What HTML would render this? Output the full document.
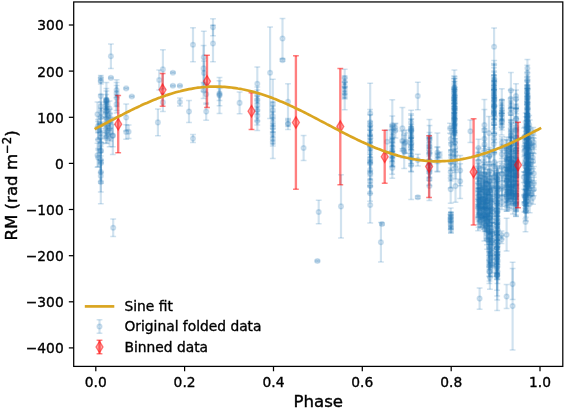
<!DOCTYPE html>
<html><head><meta charset="utf-8"><title>RM vs Phase</title>
<style>html,body{margin:0;padding:0;background:#fff}svg{display:block;filter:blur(0.35px)}</style></head>
<body>
<svg width="565" height="410" viewBox="0 0 565 410">
<rect width="565" height="410" fill="#fff"/>
<g fill="none" stroke="#1f77b4" stroke-opacity="0.21" stroke-width="2.15">
<path d="M113.2 218.9V236.5"/>
<path d="M110.9 44.0V68.6"/>
<path d="M162.9 49.8V89.0"/>
<path d="M159.2 70.0V90.0"/>
<path d="M172.9 72.1V73.3"/>
<path d="M172.9 85.2V86.4"/>
<path d="M179.9 85.2V86.4"/>
<path d="M193.0 27.7V61.7"/>
<path d="M203.8 31.3V83.3"/>
<path d="M203.6 45.4V91.4"/>
<path d="M204.0 61.0V85.0"/>
<path d="M203.6 82.5V98.5"/>
<path d="M213.0 18.8V35.8"/>
<path d="M213.0 25.2V61.8"/>
<path d="M219.5 80.8V105.8"/>
<path d="M219.5 77.5V113.5"/>
<path d="M219.5 88.5V100.5"/>
<path d="M157.9 109.0V135.8"/>
<path d="M162.9 93.4V111.4"/>
<path d="M179.9 98.0V106.0"/>
<path d="M189.0 100.6V122.6"/>
<path d="M193.0 134.6V142.6"/>
<path d="M206.2 103.0V120.2"/>
<path d="M206.2 84.2V104.2"/>
<path d="M239.6 92.1V113.7"/>
<path d="M257.3 66.9V100.7"/>
<path d="M257.3 87.0V103.0"/>
<path d="M257.3 90.0V110.0"/>
<path d="M257.3 96.0V114.0"/>
<path d="M257.3 99.0V121.0"/>
<path d="M257.3 107.0V125.0"/>
<path d="M257.3 111.6V130.4"/>
<path d="M270.1 27.1V118.5"/>
<path d="M282.5 18.5V58.5"/>
<path d="M282.5 59.3V61.3"/>
<path d="M272.8 79.2V128.8"/>
<path d="M272.8 102.0V118.0"/>
<path d="M272.8 106.0V126.0"/>
<path d="M272.8 112.0V132.0"/>
<path d="M272.8 119.0V137.0"/>
<path d="M272.8 124.0V144.0"/>
<path d="M272.8 132.0V146.0"/>
<path d="M272.8 125.6V158.4"/>
<path d="M288.0 83.8V119.6"/>
<path d="M288.0 118.4V129.6"/>
<path d="M288.0 120.5V126.5"/>
<path d="M303.6 135.5V160.5"/>
<path d="M344.7 69.3V86.7"/>
<path d="M344.7 76.0V88.0"/>
<path d="M344.7 78.0V94.0"/>
<path d="M344.7 82.0V98.0"/>
<path d="M344.7 87.0V99.0"/>
<path d="M344.7 82.3V109.7"/>
<path d="M370.2 83.2V143.2"/>
<path d="M370.1 109.4V135.1"/>
<path d="M370.2 114.8V135.4"/>
<path d="M370.2 121.6V136.3"/>
<path d="M370.1 126.4V142.1"/>
<path d="M370.3 130.0V146.2"/>
<path d="M370.2 125.6V156.7"/>
<path d="M370.2 130.6V162.2"/>
<path d="M370.3 138.6V157.8"/>
<path d="M370.1 142.6V162.2"/>
<path d="M370.1 146.6V171.1"/>
<path d="M370.2 150.1V174.0"/>
<path d="M370.1 154.8V172.5"/>
<path d="M370.2 160.1V179.7"/>
<path d="M370.2 163.7V183.1"/>
<path d="M370.2 176.1V186.0"/>
<path d="M370.2 178.5V193.5"/>
<path d="M370.1 185.4V201.2"/>
<path d="M370.2 187.0V223.0"/>
<path d="M392.3 99.8V150.8"/>
<path d="M392.3 116.1V138.7"/>
<path d="M392.3 124.8V137.4"/>
<path d="M392.4 126.4V146.5"/>
<path d="M392.3 129.9V151.6"/>
<path d="M392.3 134.1V152.5"/>
<path d="M392.4 138.4V157.0"/>
<path d="M392.2 139.7V161.5"/>
<path d="M392.4 142.4V165.9"/>
<path d="M392.3 145.7V167.1"/>
<path d="M392.3 151.8V166.2"/>
<path d="M392.2 151.5V174.2"/>
<path d="M392.3 157.7V178.3"/>
<path d="M387.1 130.0V153.6"/>
<path d="M395.2 124.0V131.0"/>
<path d="M395.4 123.2V138.0"/>
<path d="M402.4 107.6V148.8"/>
<path d="M403.2 142.0V158.0"/>
<path d="M404.2 134.9V168.5"/>
<path d="M406.0 130.0V153.6"/>
<path d="M402.3 131.0V151.0"/>
<path d="M405.0 133.0V153.0"/>
<path d="M411.2 110.3V149.7"/>
<path d="M411.2 115.3V140.7"/>
<path d="M411.1 113.7V131.2"/>
<path d="M411.1 119.3V137.6"/>
<path d="M411.3 119.1V142.5"/>
<path d="M411.1 126.4V144.3"/>
<path d="M411.3 124.4V149.8"/>
<path d="M411.1 132.2V147.4"/>
<path d="M411.2 133.4V153.7"/>
<path d="M411.1 138.2V156.0"/>
<path d="M411.2 138.2V163.6"/>
<path d="M411.2 145.2V165.8"/>
<path d="M411.1 146.6V171.2"/>
<path d="M411.2 130.6V199.4"/>
<path d="M411.2 144.0V172.0"/>
<path d="M417.8 82.2V109.8"/>
<path d="M417.8 154.2V166.0"/>
<path d="M417.8 196.0V198.4"/>
<path d="M341.0 174.8V238.0"/>
<path d="M318.7 200.2V223.8"/>
<path d="M317.4 260.2V261.8"/>
<path d="M382.0 223.0V225.0"/>
<path d="M380.9 222.6V262.0"/>
<path d="M429.4 119.4V160.6"/>
<path d="M429.5 125.4V148.6"/>
<path d="M429.4 132.6V146.1"/>
<path d="M429.3 137.6V150.6"/>
<path d="M429.3 137.9V154.7"/>
<path d="M429.3 142.5V156.6"/>
<path d="M429.4 147.4V159.7"/>
<path d="M429.4 153.3V167.4"/>
<path d="M429.4 153.3V170.3"/>
<path d="M429.5 152.2V178.1"/>
<path d="M429.4 163.7V176.9"/>
<path d="M429.4 164.9V180.6"/>
<path d="M429.3 173.2V185.5"/>
<path d="M429.4 171.6V200.4"/>
<path d="M437.4 133.1V172.1"/>
<path d="M437.4 147.4V163.4"/>
<path d="M439.7 151.9V157.9"/>
<path d="M437.4 146.8V171.2"/>
<path d="M454.4 70.0V98.0"/>
<path d="M454.4 78.2V96.5"/>
<path d="M454.2 76.0V100.4"/>
<path d="M454.6 76.6V103.8"/>
<path d="M454.3 81.3V99.9"/>
<path d="M454.4 78.5V107.0"/>
<path d="M454.3 79.0V108.0"/>
<path d="M454.6 81.4V110.3"/>
<path d="M454.5 87.2V106.9"/>
<path d="M454.3 89.8V106.3"/>
<path d="M454.3 88.7V108.8"/>
<path d="M454.6 89.5V112.7"/>
<path d="M454.6 87.2V118.5"/>
<path d="M454.3 93.6V113.3"/>
<path d="M454.3 91.6V117.6"/>
<path d="M454.6 95.2V118.9"/>
<path d="M454.5 99.4V116.8"/>
<path d="M454.6 95.3V123.8"/>
<path d="M454.4 101.6V120.5"/>
<path d="M454.3 98.1V126.9"/>
<path d="M454.3 103.0V125.4"/>
<path d="M454.5 106.2V124.9"/>
<path d="M454.2 100.6V131.1"/>
<path d="M454.2 103.6V132.8"/>
<path d="M454.5 109.1V130.7"/>
<path d="M454.2 112.5V128.8"/>
<path d="M454.5 110.5V134.9"/>
<path d="M454.4 109.0V139.0"/>
<path d="M454.3 115.3V135.3"/>
<path d="M454.3 113.3V138.6"/>
<path d="M454.4 118.3V136.4"/>
<path d="M454.3 118.0V141.3"/>
<path d="M454.6 119.2V142.0"/>
<path d="M454.4 120.2V144.7"/>
<path d="M454.2 121.8V144.8"/>
<path d="M450.9 128.2V149.8"/>
<path d="M451.1 134.0V154.7"/>
<path d="M451.0 142.7V160.9"/>
<path d="M451.2 150.6V163.8"/>
<path d="M451.0 155.0V170.3"/>
<path d="M454.9 132.8V151.5"/>
<path d="M455.1 138.8V156.2"/>
<path d="M454.9 143.0V161.2"/>
<path d="M454.9 148.7V167.1"/>
<path d="M455.1 152.0V172.4"/>
<path d="M450.7 175.3V203.3"/>
<path d="M450.7 168.0V188.0"/>
<path d="M450.7 163.0V181.0"/>
<path d="M455.5 155.0V179.0"/>
<path d="M455.5 169.9V202.3"/>
<path d="M460.2 155.5V185.7"/>
<path d="M460.2 163.8V198.6"/>
<path d="M450.7 208.0V220.0"/>
<path d="M450.9 212.3V217.9"/>
<path d="M450.9 212.2V221.2"/>
<path d="M450.5 214.7V221.4"/>
<path d="M450.6 218.1V222.5"/>
<path d="M450.8 219.4V228.8"/>
<path d="M450.8 221.3V229.2"/>
<path d="M450.9 222.7V232.5"/>
<path d="M450.9 227.0V233.3"/>
<path d="M450.0 123.2V133.2"/>
<path d="M470.4 120.0V142.6"/>
<path d="M100.8 75.6V80.6"/>
<path d="M100.8 77.7V84.1"/>
<path d="M100.8 82.1V110.1"/>
<path d="M100.8 94.4V118.4"/>
<path d="M101.0 102.1V124.0"/>
<path d="M100.8 108.2V126.4"/>
<path d="M100.6 116.7V132.5"/>
<path d="M100.6 123.9V142.6"/>
<path d="M100.6 122.0V152.6"/>
<path d="M100.8 130.7V156.0"/>
<path d="M100.9 128.7V172.1"/>
<path d="M100.7 138.6V163.4"/>
<path d="M100.7 146.4V173.0"/>
<path d="M101.0 142.8V183.2"/>
<path d="M100.8 162.6V181.4"/>
<path d="M100.8 160.0V192.0"/>
<path d="M100.8 160.2V203.8"/>
<path d="M97.5 101.9V126.8"/>
<path d="M98.0 119.5V132.8"/>
<path d="M98.0 121.5V139.5"/>
<path d="M98.2 129.2V150.1"/>
<path d="M97.5 143.2V167.2"/>
<path d="M98.1 148.4V166.8"/>
<path d="M106.4 82.4V117.6"/>
<path d="M106.4 88.4V113.6"/>
<path d="M106.4 91.0V108.4"/>
<path d="M106.3 94.6V108.9"/>
<path d="M106.2 98.2V109.5"/>
<path d="M106.3 99.4V111.9"/>
<path d="M106.5 102.2V114.5"/>
<path d="M106.3 104.5V117.3"/>
<path d="M106.3 107.0V117.1"/>
<path d="M106.4 112.3V123.8"/>
<path d="M106.7 115.2V126.1"/>
<path d="M106.4 118.4V132.3"/>
<path d="M106.3 121.9V135.9"/>
<path d="M106.7 125.5V138.3"/>
<path d="M106.5 128.4V143.5"/>
<path d="M106.3 132.7V143.1"/>
<path d="M109.5 100.9V116.3"/>
<path d="M109.6 109.3V118.2"/>
<path d="M110.0 113.6V128.3"/>
<path d="M109.6 117.5V128.5"/>
<path d="M109.6 122.2V134.6"/>
<path d="M110.1 123.2V140.9"/>
<path d="M109.6 129.1V146.8"/>
<path d="M116.6 79.8V106.4"/>
<path d="M116.6 82.4V97.6"/>
<path d="M116.6 85.4V110.6"/>
<path d="M116.6 95.0V113.0"/>
<path d="M112.8 124.5V146.7"/>
<path d="M112.8 117.2V154.4"/>
<path d="M110.9 77.3V78.5"/>
<path d="M126.2 87.8V89.0"/>
<path d="M131.8 95.9V97.1"/>
<path d="M126.2 104.1V130.9"/>
<path d="M126.2 124.8V139.2"/>
<path d="M128.6 124.9V138.5"/>
<path d="M478.5 139.3V156.7"/>
<path d="M478.3 148.1V160.1"/>
<path d="M478.4 152.2V170.2"/>
<path d="M478.4 160.6V172.7"/>
<path d="M478.2 163.6V182.0"/>
<path d="M478.1 166.7V183.6"/>
<path d="M478.5 168.5V188.9"/>
<path d="M478.5 171.5V195.0"/>
<path d="M478.3 178.0V195.2"/>
<path d="M478.2 178.2V201.7"/>
<path d="M478.1 179.2V204.6"/>
<path d="M478.5 183.8V207.5"/>
<path d="M478.2 188.2V208.6"/>
<path d="M478.6 188.1V213.0"/>
<path d="M478.5 191.3V217.6"/>
<path d="M478.5 199.2V214.9"/>
<path d="M478.2 199.2V217.0"/>
<path d="M478.6 200.8V221.8"/>
<path d="M478.5 204.4V227.3"/>
<path d="M478.1 206.1V230.8"/>
<path d="M484.4 99.4V150.6"/>
<path d="M484.4 109.6V150.4"/>
<path d="M484.5 128.7V148.7"/>
<path d="M484.5 132.3V156.3"/>
<path d="M484.4 146.3V164.7"/>
<path d="M484.1 151.7V172.6"/>
<path d="M484.1 158.9V174.1"/>
<path d="M484.2 162.3V186.1"/>
<path d="M484.4 169.0V187.1"/>
<path d="M484.5 167.4V191.7"/>
<path d="M484.5 176.4V189.7"/>
<path d="M484.3 172.7V196.6"/>
<path d="M484.4 182.1V194.3"/>
<path d="M484.3 179.2V201.9"/>
<path d="M484.5 187.2V203.9"/>
<path d="M484.4 188.3V207.8"/>
<path d="M484.6 192.3V207.5"/>
<path d="M484.7 199.4V211.7"/>
<path d="M484.6 193.3V220.8"/>
<path d="M484.3 202.4V217.8"/>
<path d="M484.2 204.0V225.3"/>
<path d="M484.4 201.6V228.9"/>
<path d="M484.6 208.2V228.4"/>
<path d="M484.5 215.8V231.5"/>
<path d="M484.4 217.0V241.0"/>
<path d="M489.0 116.4V149.8"/>
<path d="M489.5 149.5V161.8"/>
<path d="M489.5 147.6V165.0"/>
<path d="M489.2 156.3V172.5"/>
<path d="M489.8 164.7V176.7"/>
<path d="M489.8 170.6V184.0"/>
<path d="M489.7 169.4V192.2"/>
<path d="M489.4 173.6V190.3"/>
<path d="M489.6 178.9V195.3"/>
<path d="M489.3 182.1V194.7"/>
<path d="M489.8 182.7V198.2"/>
<path d="M489.2 188.4V203.6"/>
<path d="M489.2 189.5V206.0"/>
<path d="M489.9 191.3V213.0"/>
<path d="M489.9 192.5V215.8"/>
<path d="M489.7 200.7V213.3"/>
<path d="M489.5 200.0V221.1"/>
<path d="M489.3 207.0V219.6"/>
<path d="M489.1 208.4V226.0"/>
<path d="M489.3 208.0V228.9"/>
<path d="M489.3 213.5V233.3"/>
<path d="M489.6 216.0V232.7"/>
<path d="M489.2 219.8V234.3"/>
<path d="M489.5 225.0V239.6"/>
<path d="M490.0 226.6V244.0"/>
<path d="M489.2 229.5V242.6"/>
<path d="M489.1 232.2V247.1"/>
<path d="M489.6 231.1V253.8"/>
<path d="M489.4 238.5V255.4"/>
<path d="M489.4 241.3V257.3"/>
<path d="M489.3 239.1V262.7"/>
<path d="M489.5 244.4V263.9"/>
<path d="M489.2 251.8V267.0"/>
<path d="M489.4 251.9V269.3"/>
<path d="M489.8 254.5V277.0"/>
<path d="M489.0 255.7V276.2"/>
<path d="M489.5 262.1V281.1"/>
<path d="M489.4 260.4V283.5"/>
<path d="M489.9 265.6V289.3"/>
<path d="M494.1 27.9V65.5"/>
<path d="M493.9 63.4V89.6"/>
<path d="M494.2 60.6V97.8"/>
<path d="M494.2 64.4V99.1"/>
<path d="M494.1 71.0V95.6"/>
<path d="M494.0 67.7V104.5"/>
<path d="M494.0 75.0V100.8"/>
<path d="M494.2 72.3V106.1"/>
<path d="M493.9 75.3V106.7"/>
<path d="M494.1 80.6V107.7"/>
<path d="M493.9 81.0V111.0"/>
<path d="M494.3 79.0V115.9"/>
<path d="M494.1 85.5V114.2"/>
<path d="M494.3 81.4V119.5"/>
<path d="M493.9 85.2V119.2"/>
<path d="M494.1 89.9V119.0"/>
<path d="M494.3 91.8V120.4"/>
<path d="M494.0 90.5V122.9"/>
<path d="M493.9 89.5V129.4"/>
<path d="M494.1 97.2V125.3"/>
<path d="M494.0 93.1V133.5"/>
<path d="M494.0 94.1V133.3"/>
<path d="M494.4 106.1V128.0"/>
<path d="M493.9 112.8V133.8"/>
<path d="M494.4 124.8V142.5"/>
<path d="M493.9 124.9V152.6"/>
<path d="M493.8 135.6V152.4"/>
<path d="M494.3 139.5V166.1"/>
<path d="M494.4 148.5V175.7"/>
<path d="M493.9 152.7V179.9"/>
<path d="M493.8 164.2V188.2"/>
<path d="M494.0 170.7V190.6"/>
<path d="M496.8 162.1V182.6"/>
<path d="M497.6 165.7V183.7"/>
<path d="M497.0 167.1V188.8"/>
<path d="M497.5 168.2V191.1"/>
<path d="M497.2 169.1V191.1"/>
<path d="M497.0 172.9V194.8"/>
<path d="M496.8 174.5V197.1"/>
<path d="M497.4 179.3V195.9"/>
<path d="M496.9 172.7V203.4"/>
<path d="M497.4 175.3V205.7"/>
<path d="M497.0 177.0V208.3"/>
<path d="M497.0 181.5V209.0"/>
<path d="M497.0 188.6V204.7"/>
<path d="M497.5 186.4V212.6"/>
<path d="M496.8 192.0V211.8"/>
<path d="M497.6 187.3V218.6"/>
<path d="M497.0 193.3V216.2"/>
<path d="M497.5 197.5V216.5"/>
<path d="M497.4 195.0V224.2"/>
<path d="M497.3 200.9V222.2"/>
<path d="M497.1 198.4V226.9"/>
<path d="M497.0 200.1V228.2"/>
<path d="M496.9 208.2V224.8"/>
<path d="M497.1 203.3V234.9"/>
<path d="M497.6 211.6V231.9"/>
<path d="M496.9 210.2V234.2"/>
<path d="M497.2 215.5V235.3"/>
<path d="M497.3 213.4V240.2"/>
<path d="M497.5 216.2V242.8"/>
<path d="M497.5 219.9V240.6"/>
<path d="M497.1 219.2V247.0"/>
<path d="M497.0 224.4V244.4"/>
<path d="M497.5 223.7V248.9"/>
<path d="M497.1 222.7V254.6"/>
<path d="M497.0 226.5V255.5"/>
<path d="M497.6 234.5V252.1"/>
<path d="M497.5 230.2V259.7"/>
<path d="M496.8 237.5V258.2"/>
<path d="M497.0 232.5V264.0"/>
<path d="M497.5 240.2V262.1"/>
<path d="M497.2 243.7V263.8"/>
<path d="M497.6 246.7V264.4"/>
<path d="M497.3 247.5V266.9"/>
<path d="M496.9 249.1V268.4"/>
<path d="M497.3 247.3V273.7"/>
<path d="M496.8 251.8V273.0"/>
<path d="M496.9 254.9V275.9"/>
<path d="M497.4 254.0V278.8"/>
<path d="M496.9 257.0V279.3"/>
<path d="M497.3 262.4V279.8"/>
<path d="M497.4 261.0V283.6"/>
<path d="M497.0 258.9V290.2"/>
<path d="M497.2 255.0V296.0"/>
<path d="M497.2 252.0V300.0"/>
<path d="M497.2 239.4V310.6"/>
<path d="M501.8 88.8V113.2"/>
<path d="M501.8 100.0V113.6"/>
<path d="M501.9 99.7V119.7"/>
<path d="M501.7 103.6V120.8"/>
<path d="M501.6 104.9V123.9"/>
<path d="M501.9 110.6V124.6"/>
<path d="M501.8 115.6V127.3"/>
<path d="M501.8 113.6V130.0"/>
<path d="M501.6 118.7V134.9"/>
<path d="M501.8 136.8V148.3"/>
<path d="M501.8 139.1V158.4"/>
<path d="M501.8 145.3V163.4"/>
<path d="M501.6 161.3V172.6"/>
<path d="M502.1 166.2V181.0"/>
<path d="M502.1 167.4V181.3"/>
<path d="M501.9 177.8V196.1"/>
<path d="M502.0 182.6V194.8"/>
<path d="M502.0 188.0V206.3"/>
<path d="M501.6 195.4V209.4"/>
<path d="M506.5 139.7V153.2"/>
<path d="M506.7 137.1V159.8"/>
<path d="M506.6 140.1V161.2"/>
<path d="M506.8 146.7V160.1"/>
<path d="M506.6 148.0V167.5"/>
<path d="M506.6 150.2V169.2"/>
<path d="M506.7 154.1V171.5"/>
<path d="M506.3 155.9V175.3"/>
<path d="M506.4 158.0V179.1"/>
<path d="M506.6 165.0V179.2"/>
<path d="M506.4 167.3V180.8"/>
<path d="M506.4 168.0V185.3"/>
<path d="M506.3 169.9V189.5"/>
<path d="M506.7 170.6V191.9"/>
<path d="M506.3 176.2V194.3"/>
<path d="M506.9 180.8V194.5"/>
<path d="M506.9 181.3V202.1"/>
<path d="M506.4 182.5V206.3"/>
<path d="M506.9 184.8V207.8"/>
<path d="M506.8 186.6V209.7"/>
<path d="M506.5 190.1V211.2"/>
<path d="M506.8 196.0V211.3"/>
<path d="M510.9 72.6V108.4"/>
<path d="M510.7 89.9V107.9"/>
<path d="M510.8 97.9V113.1"/>
<path d="M510.8 102.8V115.3"/>
<path d="M510.7 101.5V124.7"/>
<path d="M511.1 115.1V129.1"/>
<path d="M510.7 119.5V137.9"/>
<path d="M510.8 120.4V142.9"/>
<path d="M510.9 122.8V145.4"/>
<path d="M511.2 125.7V145.3"/>
<path d="M511.1 131.3V146.5"/>
<path d="M510.9 134.9V151.2"/>
<path d="M510.9 138.0V152.1"/>
<path d="M510.6 136.7V158.6"/>
<path d="M511.0 137.1V160.9"/>
<path d="M511.0 144.6V160.3"/>
<path d="M510.6 146.6V160.4"/>
<path d="M510.9 148.7V166.8"/>
<path d="M510.7 153.7V168.5"/>
<path d="M510.6 157.1V169.1"/>
<path d="M510.7 156.8V173.1"/>
<path d="M511.0 157.7V176.7"/>
<path d="M511.0 160.9V178.6"/>
<path d="M511.2 164.7V179.7"/>
<path d="M510.7 165.0V184.7"/>
<path d="M511.1 170.9V187.8"/>
<path d="M510.6 170.5V190.3"/>
<path d="M510.8 173.9V193.7"/>
<path d="M511.2 175.7V196.5"/>
<path d="M511.1 181.9V194.5"/>
<path d="M510.8 184.1V199.0"/>
<path d="M511.1 186.8V199.0"/>
<path d="M511.2 190.0V203.7"/>
<path d="M516.0 83.7V108.3"/>
<path d="M516.1 90.0V108.1"/>
<path d="M516.2 99.7V113.8"/>
<path d="M515.9 104.0V116.6"/>
<path d="M516.1 108.5V129.0"/>
<path d="M516.2 108.9V129.8"/>
<path d="M516.1 118.4V135.9"/>
<path d="M515.8 123.3V138.0"/>
<path d="M515.9 122.5V143.5"/>
<path d="M516.2 127.4V148.0"/>
<path d="M516.0 130.7V147.9"/>
<path d="M516.0 136.1V151.3"/>
<path d="M516.3 138.8V153.4"/>
<path d="M515.7 142.1V157.2"/>
<path d="M516.1 139.0V162.3"/>
<path d="M515.9 143.7V166.3"/>
<path d="M515.8 145.2V168.1"/>
<path d="M516.1 150.4V170.4"/>
<path d="M516.0 153.2V175.3"/>
<path d="M516.2 157.7V174.9"/>
<path d="M516.0 161.4V177.1"/>
<path d="M516.1 164.1V177.1"/>
<path d="M515.8 169.3V181.6"/>
<path d="M516.3 167.9V184.1"/>
<path d="M515.7 172.7V185.2"/>
<path d="M516.1 173.2V193.6"/>
<path d="M515.7 176.8V195.9"/>
<path d="M516.2 177.3V199.1"/>
<path d="M515.7 181.3V203.8"/>
<path d="M516.3 188.8V202.1"/>
<path d="M515.8 190.1V202.5"/>
<path d="M516.2 191.2V210.8"/>
<path d="M516.1 196.1V211.5"/>
<path d="M515.8 194.0V215.1"/>
<path d="M515.9 199.2V216.3"/>
<path d="M527.4 59.4V77.0"/>
<path d="M527.3 65.2V80.9"/>
<path d="M527.4 72.5V88.4"/>
<path d="M527.4 76.3V95.4"/>
<path d="M527.2 77.6V96.5"/>
<path d="M527.5 79.4V97.5"/>
<path d="M527.4 82.3V98.9"/>
<path d="M527.2 80.6V104.5"/>
<path d="M527.2 84.9V101.3"/>
<path d="M527.6 88.8V102.8"/>
<path d="M527.4 85.3V108.8"/>
<path d="M527.4 89.1V107.3"/>
<path d="M527.3 88.4V113.7"/>
<path d="M527.3 90.6V113.0"/>
<path d="M527.2 93.0V114.7"/>
<path d="M527.5 93.7V116.0"/>
<path d="M527.5 98.6V116.9"/>
<path d="M527.4 96.4V121.1"/>
<path d="M527.6 102.8V117.1"/>
<path d="M527.3 99.4V124.3"/>
<path d="M527.4 101.7V126.4"/>
<path d="M527.4 105.1V125.5"/>
<path d="M527.5 107.0V128.8"/>
<path d="M527.3 111.0V126.8"/>
<path d="M527.5 108.9V133.8"/>
<path d="M527.4 109.3V134.5"/>
<path d="M527.1 113.4V134.9"/>
<path d="M527.2 117.1V135.4"/>
<path d="M527.6 113.9V140.0"/>
<path d="M527.1 118.9V137.8"/>
<path d="M527.4 121.3V139.2"/>
<path d="M527.2 118.0V145.7"/>
<path d="M527.1 120.4V147.9"/>
<path d="M527.3 120.8V148.6"/>
<path d="M527.6 126.9V148.1"/>
<path d="M527.5 129.5V146.8"/>
<path d="M527.3 131.6V148.0"/>
<path d="M527.6 129.5V153.9"/>
<path d="M527.5 132.7V154.3"/>
<path d="M527.5 134.1V154.9"/>
<path d="M527.7 136.5V157.7"/>
<path d="M527.6 137.9V159.0"/>
<path d="M527.6 136.2V162.8"/>
<path d="M527.6 138.9V165.1"/>
<path d="M527.5 142.8V164.2"/>
<path d="M527.5 145.9V163.1"/>
<path d="M527.6 144.0V168.6"/>
<path d="M527.2 147.7V168.8"/>
<path d="M527.5 149.1V170.1"/>
<path d="M527.7 152.5V170.7"/>
<path d="M527.6 152.8V173.5"/>
<path d="M527.8 156.3V172.7"/>
<path d="M527.1 153.5V178.9"/>
<path d="M527.4 159.9V177.1"/>
<path d="M527.4 157.2V181.8"/>
<path d="M527.5 158.0V184.0"/>
<path d="M527.3 159.0V186.3"/>
<path d="M527.5 163.4V184.1"/>
<path d="M527.1 162.4V190.2"/>
<path d="M527.0 167.6V186.9"/>
<path d="M527.0 168.4V189.4"/>
<path d="M527.6 170.5V190.7"/>
<path d="M527.2 169.5V194.4"/>
<path d="M527.4 175.4V194.0"/>
<path d="M527.3 176.8V195.3"/>
<path d="M527.6 173.7V199.4"/>
<path d="M526.0 179.7V199.3"/>
<path d="M526.4 182.2V199.7"/>
<path d="M526.3 183.3V205.4"/>
<path d="M525.8 186.6V206.1"/>
<path d="M526.3 189.1V206.7"/>
<path d="M525.8 193.2V210.9"/>
<path d="M525.9 195.1V210.9"/>
<path d="M526.2 196.4V213.2"/>
<path d="M525.8 198.4V217.2"/>
<path d="M526.1 200.3V220.9"/>
<path d="M525.7 112.9V131.4"/>
<path d="M525.7 116.7V135.7"/>
<path d="M525.1 127.2V145.5"/>
<path d="M525.0 136.3V146.4"/>
<path d="M525.5 142.8V155.3"/>
<path d="M525.1 143.8V156.1"/>
<path d="M525.3 154.0V165.6"/>
<path d="M525.6 160.6V172.3"/>
<path d="M525.5 163.3V181.1"/>
<path d="M525.7 167.9V185.7"/>
<path d="M525.2 175.2V192.1"/>
<path d="M525.6 180.6V194.9"/>
<path d="M525.4 189.4V202.0"/>
<path d="M525.1 190.3V205.2"/>
<path d="M525.4 196.9V208.3"/>
<path d="M525.4 203.3V218.7"/>
<path d="M529.2 115.6V134.0"/>
<path d="M529.7 119.9V136.5"/>
<path d="M529.5 128.8V143.0"/>
<path d="M529.3 134.0V150.4"/>
<path d="M529.2 137.9V154.0"/>
<path d="M529.9 145.2V158.5"/>
<path d="M529.6 151.7V166.5"/>
<path d="M529.2 155.6V172.8"/>
<path d="M529.5 159.0V177.6"/>
<path d="M529.6 164.8V180.1"/>
<path d="M529.4 173.1V187.5"/>
<path d="M529.6 174.8V193.1"/>
<path d="M529.9 181.8V195.9"/>
<path d="M529.4 188.1V203.2"/>
<path d="M529.7 194.9V212.8"/>
<path d="M525.5 212.2V231.8"/>
<path d="M533.2 127.4V137.8"/>
<path d="M533.7 135.2V149.5"/>
<path d="M533.9 138.3V153.4"/>
<path d="M532.8 152.4V162.8"/>
<path d="M533.0 153.5V168.8"/>
<path d="M533.8 166.5V180.8"/>
<path d="M533.7 177.3V190.2"/>
<path d="M533.8 182.9V195.7"/>
<path d="M533.0 190.9V204.2"/>
<path d="M479.6 287.9V309.3"/>
<path d="M506.6 218.3V251.1"/>
<path d="M506.6 284.6V308.4"/>
<path d="M512.6 268.6V299.6"/>
<path d="M512.6 262.2V350.0"/>
<path d="M501.5 231.0V239.0"/>
<path d="M501.5 235.5V243.5"/>
<path d="M481.5 167.2V180.4"/>
<path d="M480.9 166.1V187.4"/>
<path d="M481.4 175.4V191.9"/>
<path d="M481.5 177.9V196.7"/>
<path d="M481.1 180.5V197.6"/>
<path d="M481.2 183.4V203.1"/>
<path d="M480.9 190.3V209.1"/>
<path d="M481.0 189.3V211.0"/>
<path d="M481.6 197.6V215.0"/>
<path d="M481.2 198.5V217.6"/>
<path d="M481.7 206.9V224.6"/>
<path d="M481.0 207.8V227.5"/>
<path d="M481.0 214.8V226.9"/>
<path d="M487.1 169.3V182.7"/>
<path d="M486.7 172.2V194.6"/>
<path d="M486.6 173.7V194.3"/>
<path d="M487.2 181.1V195.3"/>
<path d="M487.2 181.0V201.5"/>
<path d="M487.2 191.5V204.5"/>
<path d="M487.2 192.2V209.7"/>
<path d="M486.8 194.1V217.6"/>
<path d="M486.6 202.7V214.9"/>
<path d="M487.3 205.9V218.8"/>
<path d="M487.2 207.8V221.8"/>
<path d="M487.0 214.3V227.0"/>
<path d="M487.1 213.9V231.2"/>
<path d="M486.7 216.7V238.3"/>
<path d="M487.1 220.3V239.9"/>
<path d="M486.9 223.3V244.8"/>
<path d="M487.2 230.4V249.2"/>
<path d="M491.6 175.5V199.2"/>
<path d="M492.3 186.0V201.9"/>
<path d="M492.4 187.2V209.1"/>
<path d="M491.8 194.2V211.4"/>
<path d="M491.9 198.7V218.9"/>
<path d="M492.3 201.3V223.0"/>
<path d="M491.6 207.7V222.9"/>
<path d="M492.1 209.7V231.5"/>
<path d="M491.6 216.5V238.5"/>
<path d="M492.3 222.4V241.2"/>
<path d="M492.3 223.1V244.8"/>
<path d="M492.3 232.4V248.6"/>
<path d="M492.0 231.6V253.2"/>
<path d="M492.2 236.0V259.2"/>
<path d="M492.1 242.4V262.5"/>
<path d="M491.8 250.6V265.7"/>
<path d="M492.2 255.4V272.9"/>
<path d="M492.2 255.1V276.4"/>
<path d="M508.8 147.6V170.4"/>
<path d="M508.7 157.2V174.9"/>
<path d="M508.4 161.9V176.2"/>
<path d="M508.9 163.4V179.8"/>
<path d="M508.6 168.4V186.6"/>
<path d="M508.2 168.0V192.0"/>
<path d="M508.3 175.4V195.0"/>
<path d="M508.4 181.7V200.9"/>
<path d="M508.7 187.5V199.8"/>
<path d="M509.2 185.4V207.8"/>
<path d="M508.8 195.2V210.4"/>
<path d="M510.9 143.2V166.5"/>
<path d="M511.1 149.3V172.8"/>
<path d="M510.6 156.9V171.3"/>
<path d="M510.7 163.6V176.2"/>
<path d="M511.1 169.7V187.2"/>
<path d="M511.1 180.8V193.6"/>
<path d="M510.8 184.5V198.0"/>
<path d="M510.8 190.4V209.1"/>
<path d="M514.0 150.3V170.3"/>
<path d="M513.4 156.1V170.0"/>
<path d="M514.0 161.4V176.1"/>
<path d="M513.3 160.9V177.1"/>
<path d="M513.9 164.7V186.7"/>
<path d="M513.8 166.0V186.5"/>
<path d="M514.0 175.7V188.4"/>
<path d="M513.8 172.2V195.5"/>
<path d="M513.3 179.8V198.9"/>
<path d="M513.1 185.3V201.2"/>
<path d="M513.1 186.2V204.0"/>
<path d="M513.2 191.5V205.2"/>
<path d="M513.0 193.5V214.1"/>
<path d="M515.7 139.9V163.1"/>
<path d="M516.3 148.3V170.7"/>
<path d="M515.8 163.7V181.1"/>
<path d="M516.3 162.9V185.1"/>
<path d="M516.0 177.8V193.9"/>
<path d="M516.0 185.4V204.9"/>
<path d="M515.8 191.3V203.9"/>
<path d="M516.0 202.9V216.6"/>
<path d="M527.2 104.9V125.8"/>
<path d="M527.2 104.1V130.1"/>
<path d="M527.1 113.4V135.3"/>
<path d="M527.8 121.7V139.1"/>
<path d="M527.0 127.3V154.0"/>
<path d="M527.1 134.0V155.7"/>
<path d="M527.2 139.5V157.9"/>
<path d="M527.9 141.3V169.3"/>
<path d="M527.0 155.2V174.7"/>
<path d="M527.0 158.5V183.3"/>
<path d="M527.9 165.2V181.4"/>
<path d="M527.2 173.8V191.5"/>
<path d="M527.7 172.7V195.0"/>
<path d="M524.1 127.9V147.0"/>
<path d="M524.3 145.4V156.7"/>
<path d="M524.5 155.1V172.3"/>
<path d="M523.8 171.7V182.5"/>
<path d="M524.2 189.3V202.0"/>
<path d="M524.3 195.0V212.1"/>
<path d="M531.1 137.8V149.8"/>
<path d="M531.2 139.5V153.6"/>
<path d="M530.6 155.4V173.5"/>
<path d="M531.3 161.8V180.5"/>
<path d="M530.5 174.1V193.2"/>
<path d="M531.4 188.0V200.7"/>
<path d="M479.8 187.8V204.2"/>
<path d="M479.4 191.7V210.9"/>
<path d="M479.5 197.2V214.5"/>
<path d="M479.1 203.7V224.3"/>
<path d="M479.9 213.1V228.9"/>
<path d="M482.9 188.6V209.6"/>
<path d="M483.4 189.4V212.9"/>
<path d="M483.0 200.3V218.7"/>
<path d="M482.5 203.7V227.3"/>
<path d="M482.7 212.9V226.1"/>
<path d="M486.3 190.4V202.7"/>
<path d="M486.2 194.6V209.0"/>
<path d="M486.1 198.1V217.0"/>
<path d="M486.2 210.2V223.5"/>
<path d="M486.2 218.9V231.5"/>
</g>
<g fill="none" stroke="#1f77b4" stroke-opacity="0.21" stroke-width="1.5">
<path d="M110.3 218.9h5.8M110.3 236.5h5.8"/>
<path d="M108.0 44.0h5.8M108.0 68.6h5.8"/>
<path d="M160.0 49.8h5.8M160.0 89.0h5.8"/>
<path d="M156.3 70.0h5.8M156.3 90.0h5.8"/>
<path d="M170.0 72.1h5.8M170.0 73.3h5.8"/>
<path d="M170.0 85.2h5.8M170.0 86.4h5.8"/>
<path d="M177.0 85.2h5.8M177.0 86.4h5.8"/>
<path d="M190.1 27.7h5.8M190.1 61.7h5.8"/>
<path d="M200.9 31.3h5.8M200.9 83.3h5.8"/>
<path d="M200.7 45.4h5.8M200.7 91.4h5.8"/>
<path d="M201.1 61.0h5.8M201.1 85.0h5.8"/>
<path d="M200.7 82.5h5.8M200.7 98.5h5.8"/>
<path d="M210.1 18.8h5.8M210.1 35.8h5.8"/>
<path d="M210.1 25.2h5.8M210.1 61.8h5.8"/>
<path d="M216.6 80.8h5.8M216.6 105.8h5.8"/>
<path d="M216.6 77.5h5.8M216.6 113.5h5.8"/>
<path d="M216.6 88.5h5.8M216.6 100.5h5.8"/>
<path d="M155.0 109.0h5.8M155.0 135.8h5.8"/>
<path d="M160.0 93.4h5.8M160.0 111.4h5.8"/>
<path d="M177.0 98.0h5.8M177.0 106.0h5.8"/>
<path d="M186.1 100.6h5.8M186.1 122.6h5.8"/>
<path d="M190.1 134.6h5.8M190.1 142.6h5.8"/>
<path d="M203.3 103.0h5.8M203.3 120.2h5.8"/>
<path d="M203.3 84.2h5.8M203.3 104.2h5.8"/>
<path d="M236.7 92.1h5.8M236.7 113.7h5.8"/>
<path d="M254.4 66.9h5.8M254.4 100.7h5.8"/>
<path d="M254.4 87.0h5.8M254.4 103.0h5.8"/>
<path d="M254.4 90.0h5.8M254.4 110.0h5.8"/>
<path d="M254.4 96.0h5.8M254.4 114.0h5.8"/>
<path d="M254.4 99.0h5.8M254.4 121.0h5.8"/>
<path d="M254.4 107.0h5.8M254.4 125.0h5.8"/>
<path d="M254.4 111.6h5.8M254.4 130.4h5.8"/>
<path d="M267.2 27.1h5.8M267.2 118.5h5.8"/>
<path d="M279.6 18.5h5.8M279.6 58.5h5.8"/>
<path d="M279.6 59.3h5.8M279.6 61.3h5.8"/>
<path d="M269.9 79.2h5.8M269.9 128.8h5.8"/>
<path d="M269.9 102.0h5.8M269.9 118.0h5.8"/>
<path d="M269.9 106.0h5.8M269.9 126.0h5.8"/>
<path d="M269.9 112.0h5.8M269.9 132.0h5.8"/>
<path d="M269.9 119.0h5.8M269.9 137.0h5.8"/>
<path d="M269.9 124.0h5.8M269.9 144.0h5.8"/>
<path d="M269.9 132.0h5.8M269.9 146.0h5.8"/>
<path d="M269.9 125.6h5.8M269.9 158.4h5.8"/>
<path d="M285.1 83.8h5.8M285.1 119.6h5.8"/>
<path d="M285.1 118.4h5.8M285.1 129.6h5.8"/>
<path d="M285.1 120.5h5.8M285.1 126.5h5.8"/>
<path d="M300.7 135.5h5.8M300.7 160.5h5.8"/>
<path d="M341.8 69.3h5.8M341.8 86.7h5.8"/>
<path d="M341.8 76.0h5.8M341.8 88.0h5.8"/>
<path d="M341.8 78.0h5.8M341.8 94.0h5.8"/>
<path d="M341.8 82.0h5.8M341.8 98.0h5.8"/>
<path d="M341.8 87.0h5.8M341.8 99.0h5.8"/>
<path d="M341.8 82.3h5.8M341.8 109.7h5.8"/>
<path d="M367.3 83.2h5.8M367.3 143.2h5.8"/>
<path d="M367.2 109.4h5.8M367.2 135.1h5.8"/>
<path d="M367.3 114.8h5.8M367.3 135.4h5.8"/>
<path d="M367.3 121.6h5.8M367.3 136.3h5.8"/>
<path d="M367.2 126.4h5.8M367.2 142.1h5.8"/>
<path d="M367.4 130.0h5.8M367.4 146.2h5.8"/>
<path d="M367.3 125.6h5.8M367.3 156.7h5.8"/>
<path d="M367.3 130.6h5.8M367.3 162.2h5.8"/>
<path d="M367.4 138.6h5.8M367.4 157.8h5.8"/>
<path d="M367.2 142.6h5.8M367.2 162.2h5.8"/>
<path d="M367.2 146.6h5.8M367.2 171.1h5.8"/>
<path d="M367.3 150.1h5.8M367.3 174.0h5.8"/>
<path d="M367.2 154.8h5.8M367.2 172.5h5.8"/>
<path d="M367.3 160.1h5.8M367.3 179.7h5.8"/>
<path d="M367.3 163.7h5.8M367.3 183.1h5.8"/>
<path d="M367.3 176.1h5.8M367.3 186.0h5.8"/>
<path d="M367.3 178.5h5.8M367.3 193.5h5.8"/>
<path d="M367.2 185.4h5.8M367.2 201.2h5.8"/>
<path d="M367.3 187.0h5.8M367.3 223.0h5.8"/>
<path d="M389.4 99.8h5.8M389.4 150.8h5.8"/>
<path d="M389.4 116.1h5.8M389.4 138.7h5.8"/>
<path d="M389.4 124.8h5.8M389.4 137.4h5.8"/>
<path d="M389.5 126.4h5.8M389.5 146.5h5.8"/>
<path d="M389.4 129.9h5.8M389.4 151.6h5.8"/>
<path d="M389.4 134.1h5.8M389.4 152.5h5.8"/>
<path d="M389.5 138.4h5.8M389.5 157.0h5.8"/>
<path d="M389.3 139.7h5.8M389.3 161.5h5.8"/>
<path d="M389.5 142.4h5.8M389.5 165.9h5.8"/>
<path d="M389.4 145.7h5.8M389.4 167.1h5.8"/>
<path d="M389.4 151.8h5.8M389.4 166.2h5.8"/>
<path d="M389.3 151.5h5.8M389.3 174.2h5.8"/>
<path d="M389.4 157.7h5.8M389.4 178.3h5.8"/>
<path d="M384.2 130.0h5.8M384.2 153.6h5.8"/>
<path d="M392.3 124.0h5.8M392.3 131.0h5.8"/>
<path d="M392.5 123.2h5.8M392.5 138.0h5.8"/>
<path d="M399.5 107.6h5.8M399.5 148.8h5.8"/>
<path d="M400.3 142.0h5.8M400.3 158.0h5.8"/>
<path d="M401.3 134.9h5.8M401.3 168.5h5.8"/>
<path d="M403.1 130.0h5.8M403.1 153.6h5.8"/>
<path d="M399.4 131.0h5.8M399.4 151.0h5.8"/>
<path d="M402.1 133.0h5.8M402.1 153.0h5.8"/>
<path d="M408.3 110.3h5.8M408.3 149.7h5.8"/>
<path d="M408.3 115.3h5.8M408.3 140.7h5.8"/>
<path d="M408.2 113.7h5.8M408.2 131.2h5.8"/>
<path d="M408.2 119.3h5.8M408.2 137.6h5.8"/>
<path d="M408.4 119.1h5.8M408.4 142.5h5.8"/>
<path d="M408.2 126.4h5.8M408.2 144.3h5.8"/>
<path d="M408.4 124.4h5.8M408.4 149.8h5.8"/>
<path d="M408.2 132.2h5.8M408.2 147.4h5.8"/>
<path d="M408.3 133.4h5.8M408.3 153.7h5.8"/>
<path d="M408.2 138.2h5.8M408.2 156.0h5.8"/>
<path d="M408.3 138.2h5.8M408.3 163.6h5.8"/>
<path d="M408.3 145.2h5.8M408.3 165.8h5.8"/>
<path d="M408.2 146.6h5.8M408.2 171.2h5.8"/>
<path d="M408.3 130.6h5.8M408.3 199.4h5.8"/>
<path d="M408.3 144.0h5.8M408.3 172.0h5.8"/>
<path d="M414.9 82.2h5.8M414.9 109.8h5.8"/>
<path d="M414.9 154.2h5.8M414.9 166.0h5.8"/>
<path d="M414.9 196.0h5.8M414.9 198.4h5.8"/>
<path d="M338.1 174.8h5.8M338.1 238.0h5.8"/>
<path d="M315.8 200.2h5.8M315.8 223.8h5.8"/>
<path d="M314.5 260.2h5.8M314.5 261.8h5.8"/>
<path d="M379.1 223.0h5.8M379.1 225.0h5.8"/>
<path d="M378.0 222.6h5.8M378.0 262.0h5.8"/>
<path d="M426.5 119.4h5.8M426.5 160.6h5.8"/>
<path d="M426.6 125.4h5.8M426.6 148.6h5.8"/>
<path d="M426.5 132.6h5.8M426.5 146.1h5.8"/>
<path d="M426.4 137.6h5.8M426.4 150.6h5.8"/>
<path d="M426.4 137.9h5.8M426.4 154.7h5.8"/>
<path d="M426.4 142.5h5.8M426.4 156.6h5.8"/>
<path d="M426.5 147.4h5.8M426.5 159.7h5.8"/>
<path d="M426.5 153.3h5.8M426.5 167.4h5.8"/>
<path d="M426.5 153.3h5.8M426.5 170.3h5.8"/>
<path d="M426.6 152.2h5.8M426.6 178.1h5.8"/>
<path d="M426.5 163.7h5.8M426.5 176.9h5.8"/>
<path d="M426.5 164.9h5.8M426.5 180.6h5.8"/>
<path d="M426.4 173.2h5.8M426.4 185.5h5.8"/>
<path d="M426.5 171.6h5.8M426.5 200.4h5.8"/>
<path d="M434.5 133.1h5.8M434.5 172.1h5.8"/>
<path d="M434.5 147.4h5.8M434.5 163.4h5.8"/>
<path d="M436.8 151.9h5.8M436.8 157.9h5.8"/>
<path d="M434.5 146.8h5.8M434.5 171.2h5.8"/>
<path d="M451.5 70.0h5.8M451.5 98.0h5.8"/>
<path d="M451.5 78.2h5.8M451.5 96.5h5.8"/>
<path d="M451.3 76.0h5.8M451.3 100.4h5.8"/>
<path d="M451.7 76.6h5.8M451.7 103.8h5.8"/>
<path d="M451.4 81.3h5.8M451.4 99.9h5.8"/>
<path d="M451.5 78.5h5.8M451.5 107.0h5.8"/>
<path d="M451.4 79.0h5.8M451.4 108.0h5.8"/>
<path d="M451.7 81.4h5.8M451.7 110.3h5.8"/>
<path d="M451.6 87.2h5.8M451.6 106.9h5.8"/>
<path d="M451.4 89.8h5.8M451.4 106.3h5.8"/>
<path d="M451.4 88.7h5.8M451.4 108.8h5.8"/>
<path d="M451.7 89.5h5.8M451.7 112.7h5.8"/>
<path d="M451.7 87.2h5.8M451.7 118.5h5.8"/>
<path d="M451.4 93.6h5.8M451.4 113.3h5.8"/>
<path d="M451.4 91.6h5.8M451.4 117.6h5.8"/>
<path d="M451.7 95.2h5.8M451.7 118.9h5.8"/>
<path d="M451.6 99.4h5.8M451.6 116.8h5.8"/>
<path d="M451.7 95.3h5.8M451.7 123.8h5.8"/>
<path d="M451.5 101.6h5.8M451.5 120.5h5.8"/>
<path d="M451.4 98.1h5.8M451.4 126.9h5.8"/>
<path d="M451.4 103.0h5.8M451.4 125.4h5.8"/>
<path d="M451.6 106.2h5.8M451.6 124.9h5.8"/>
<path d="M451.3 100.6h5.8M451.3 131.1h5.8"/>
<path d="M451.3 103.6h5.8M451.3 132.8h5.8"/>
<path d="M451.6 109.1h5.8M451.6 130.7h5.8"/>
<path d="M451.3 112.5h5.8M451.3 128.8h5.8"/>
<path d="M451.6 110.5h5.8M451.6 134.9h5.8"/>
<path d="M451.5 109.0h5.8M451.5 139.0h5.8"/>
<path d="M451.4 115.3h5.8M451.4 135.3h5.8"/>
<path d="M451.4 113.3h5.8M451.4 138.6h5.8"/>
<path d="M451.5 118.3h5.8M451.5 136.4h5.8"/>
<path d="M451.4 118.0h5.8M451.4 141.3h5.8"/>
<path d="M451.7 119.2h5.8M451.7 142.0h5.8"/>
<path d="M451.5 120.2h5.8M451.5 144.7h5.8"/>
<path d="M451.3 121.8h5.8M451.3 144.8h5.8"/>
<path d="M448.0 128.2h5.8M448.0 149.8h5.8"/>
<path d="M448.2 134.0h5.8M448.2 154.7h5.8"/>
<path d="M448.1 142.7h5.8M448.1 160.9h5.8"/>
<path d="M448.3 150.6h5.8M448.3 163.8h5.8"/>
<path d="M448.1 155.0h5.8M448.1 170.3h5.8"/>
<path d="M452.0 132.8h5.8M452.0 151.5h5.8"/>
<path d="M452.2 138.8h5.8M452.2 156.2h5.8"/>
<path d="M452.0 143.0h5.8M452.0 161.2h5.8"/>
<path d="M452.0 148.7h5.8M452.0 167.1h5.8"/>
<path d="M452.2 152.0h5.8M452.2 172.4h5.8"/>
<path d="M447.8 175.3h5.8M447.8 203.3h5.8"/>
<path d="M447.8 168.0h5.8M447.8 188.0h5.8"/>
<path d="M447.8 163.0h5.8M447.8 181.0h5.8"/>
<path d="M452.6 155.0h5.8M452.6 179.0h5.8"/>
<path d="M452.6 169.9h5.8M452.6 202.3h5.8"/>
<path d="M457.3 155.5h5.8M457.3 185.7h5.8"/>
<path d="M457.3 163.8h5.8M457.3 198.6h5.8"/>
<path d="M447.8 208.0h5.8M447.8 220.0h5.8"/>
<path d="M448.0 212.3h5.8M448.0 217.9h5.8"/>
<path d="M448.0 212.2h5.8M448.0 221.2h5.8"/>
<path d="M447.6 214.7h5.8M447.6 221.4h5.8"/>
<path d="M447.7 218.1h5.8M447.7 222.5h5.8"/>
<path d="M447.9 219.4h5.8M447.9 228.8h5.8"/>
<path d="M447.9 221.3h5.8M447.9 229.2h5.8"/>
<path d="M448.0 222.7h5.8M448.0 232.5h5.8"/>
<path d="M448.0 227.0h5.8M448.0 233.3h5.8"/>
<path d="M447.1 123.2h5.8M447.1 133.2h5.8"/>
<path d="M467.5 120.0h5.8M467.5 142.6h5.8"/>
<path d="M97.9 75.6h5.8M97.9 80.6h5.8"/>
<path d="M97.9 77.7h5.8M97.9 84.1h5.8"/>
<path d="M97.9 82.1h5.8M97.9 110.1h5.8"/>
<path d="M97.9 94.4h5.8M97.9 118.4h5.8"/>
<path d="M98.1 102.1h5.8M98.1 124.0h5.8"/>
<path d="M97.9 108.2h5.8M97.9 126.4h5.8"/>
<path d="M97.7 116.7h5.8M97.7 132.5h5.8"/>
<path d="M97.7 123.9h5.8M97.7 142.6h5.8"/>
<path d="M97.7 122.0h5.8M97.7 152.6h5.8"/>
<path d="M97.9 130.7h5.8M97.9 156.0h5.8"/>
<path d="M98.0 128.7h5.8M98.0 172.1h5.8"/>
<path d="M97.8 138.6h5.8M97.8 163.4h5.8"/>
<path d="M97.8 146.4h5.8M97.8 173.0h5.8"/>
<path d="M98.1 142.8h5.8M98.1 183.2h5.8"/>
<path d="M97.9 162.6h5.8M97.9 181.4h5.8"/>
<path d="M97.9 160.0h5.8M97.9 192.0h5.8"/>
<path d="M97.9 160.2h5.8M97.9 203.8h5.8"/>
<path d="M94.6 101.9h5.8M94.6 126.8h5.8"/>
<path d="M95.1 119.5h5.8M95.1 132.8h5.8"/>
<path d="M95.1 121.5h5.8M95.1 139.5h5.8"/>
<path d="M95.3 129.2h5.8M95.3 150.1h5.8"/>
<path d="M94.6 143.2h5.8M94.6 167.2h5.8"/>
<path d="M95.2 148.4h5.8M95.2 166.8h5.8"/>
<path d="M103.5 82.4h5.8M103.5 117.6h5.8"/>
<path d="M103.5 88.4h5.8M103.5 113.6h5.8"/>
<path d="M103.5 91.0h5.8M103.5 108.4h5.8"/>
<path d="M103.4 94.6h5.8M103.4 108.9h5.8"/>
<path d="M103.3 98.2h5.8M103.3 109.5h5.8"/>
<path d="M103.4 99.4h5.8M103.4 111.9h5.8"/>
<path d="M103.6 102.2h5.8M103.6 114.5h5.8"/>
<path d="M103.4 104.5h5.8M103.4 117.3h5.8"/>
<path d="M103.4 107.0h5.8M103.4 117.1h5.8"/>
<path d="M103.5 112.3h5.8M103.5 123.8h5.8"/>
<path d="M103.8 115.2h5.8M103.8 126.1h5.8"/>
<path d="M103.5 118.4h5.8M103.5 132.3h5.8"/>
<path d="M103.4 121.9h5.8M103.4 135.9h5.8"/>
<path d="M103.8 125.5h5.8M103.8 138.3h5.8"/>
<path d="M103.6 128.4h5.8M103.6 143.5h5.8"/>
<path d="M103.4 132.7h5.8M103.4 143.1h5.8"/>
<path d="M106.6 100.9h5.8M106.6 116.3h5.8"/>
<path d="M106.7 109.3h5.8M106.7 118.2h5.8"/>
<path d="M107.1 113.6h5.8M107.1 128.3h5.8"/>
<path d="M106.7 117.5h5.8M106.7 128.5h5.8"/>
<path d="M106.7 122.2h5.8M106.7 134.6h5.8"/>
<path d="M107.2 123.2h5.8M107.2 140.9h5.8"/>
<path d="M106.7 129.1h5.8M106.7 146.8h5.8"/>
<path d="M113.7 79.8h5.8M113.7 106.4h5.8"/>
<path d="M113.7 82.4h5.8M113.7 97.6h5.8"/>
<path d="M113.7 85.4h5.8M113.7 110.6h5.8"/>
<path d="M113.7 95.0h5.8M113.7 113.0h5.8"/>
<path d="M109.9 124.5h5.8M109.9 146.7h5.8"/>
<path d="M109.9 117.2h5.8M109.9 154.4h5.8"/>
<path d="M108.0 77.3h5.8M108.0 78.5h5.8"/>
<path d="M123.3 87.8h5.8M123.3 89.0h5.8"/>
<path d="M128.9 95.9h5.8M128.9 97.1h5.8"/>
<path d="M123.3 104.1h5.8M123.3 130.9h5.8"/>
<path d="M123.3 124.8h5.8M123.3 139.2h5.8"/>
<path d="M125.7 124.9h5.8M125.7 138.5h5.8"/>
<path d="M475.6 139.3h5.8M475.6 156.7h5.8"/>
<path d="M475.4 148.1h5.8M475.4 160.1h5.8"/>
<path d="M475.5 152.2h5.8M475.5 170.2h5.8"/>
<path d="M475.5 160.6h5.8M475.5 172.7h5.8"/>
<path d="M475.3 163.6h5.8M475.3 182.0h5.8"/>
<path d="M475.2 166.7h5.8M475.2 183.6h5.8"/>
<path d="M475.6 168.5h5.8M475.6 188.9h5.8"/>
<path d="M475.6 171.5h5.8M475.6 195.0h5.8"/>
<path d="M475.4 178.0h5.8M475.4 195.2h5.8"/>
<path d="M475.3 178.2h5.8M475.3 201.7h5.8"/>
<path d="M475.2 179.2h5.8M475.2 204.6h5.8"/>
<path d="M475.6 183.8h5.8M475.6 207.5h5.8"/>
<path d="M475.3 188.2h5.8M475.3 208.6h5.8"/>
<path d="M475.7 188.1h5.8M475.7 213.0h5.8"/>
<path d="M475.6 191.3h5.8M475.6 217.6h5.8"/>
<path d="M475.6 199.2h5.8M475.6 214.9h5.8"/>
<path d="M475.3 199.2h5.8M475.3 217.0h5.8"/>
<path d="M475.7 200.8h5.8M475.7 221.8h5.8"/>
<path d="M475.6 204.4h5.8M475.6 227.3h5.8"/>
<path d="M475.2 206.1h5.8M475.2 230.8h5.8"/>
<path d="M481.5 99.4h5.8M481.5 150.6h5.8"/>
<path d="M481.5 109.6h5.8M481.5 150.4h5.8"/>
<path d="M481.6 128.7h5.8M481.6 148.7h5.8"/>
<path d="M481.6 132.3h5.8M481.6 156.3h5.8"/>
<path d="M481.5 146.3h5.8M481.5 164.7h5.8"/>
<path d="M481.2 151.7h5.8M481.2 172.6h5.8"/>
<path d="M481.2 158.9h5.8M481.2 174.1h5.8"/>
<path d="M481.3 162.3h5.8M481.3 186.1h5.8"/>
<path d="M481.5 169.0h5.8M481.5 187.1h5.8"/>
<path d="M481.6 167.4h5.8M481.6 191.7h5.8"/>
<path d="M481.6 176.4h5.8M481.6 189.7h5.8"/>
<path d="M481.4 172.7h5.8M481.4 196.6h5.8"/>
<path d="M481.5 182.1h5.8M481.5 194.3h5.8"/>
<path d="M481.4 179.2h5.8M481.4 201.9h5.8"/>
<path d="M481.6 187.2h5.8M481.6 203.9h5.8"/>
<path d="M481.5 188.3h5.8M481.5 207.8h5.8"/>
<path d="M481.7 192.3h5.8M481.7 207.5h5.8"/>
<path d="M481.8 199.4h5.8M481.8 211.7h5.8"/>
<path d="M481.7 193.3h5.8M481.7 220.8h5.8"/>
<path d="M481.4 202.4h5.8M481.4 217.8h5.8"/>
<path d="M481.3 204.0h5.8M481.3 225.3h5.8"/>
<path d="M481.5 201.6h5.8M481.5 228.9h5.8"/>
<path d="M481.7 208.2h5.8M481.7 228.4h5.8"/>
<path d="M481.6 215.8h5.8M481.6 231.5h5.8"/>
<path d="M481.5 217.0h5.8M481.5 241.0h5.8"/>
<path d="M486.1 116.4h5.8M486.1 149.8h5.8"/>
<path d="M486.6 149.5h5.8M486.6 161.8h5.8"/>
<path d="M486.6 147.6h5.8M486.6 165.0h5.8"/>
<path d="M486.3 156.3h5.8M486.3 172.5h5.8"/>
<path d="M486.9 164.7h5.8M486.9 176.7h5.8"/>
<path d="M486.9 170.6h5.8M486.9 184.0h5.8"/>
<path d="M486.8 169.4h5.8M486.8 192.2h5.8"/>
<path d="M486.5 173.6h5.8M486.5 190.3h5.8"/>
<path d="M486.7 178.9h5.8M486.7 195.3h5.8"/>
<path d="M486.4 182.1h5.8M486.4 194.7h5.8"/>
<path d="M486.9 182.7h5.8M486.9 198.2h5.8"/>
<path d="M486.3 188.4h5.8M486.3 203.6h5.8"/>
<path d="M486.3 189.5h5.8M486.3 206.0h5.8"/>
<path d="M487.0 191.3h5.8M487.0 213.0h5.8"/>
<path d="M487.0 192.5h5.8M487.0 215.8h5.8"/>
<path d="M486.8 200.7h5.8M486.8 213.3h5.8"/>
<path d="M486.6 200.0h5.8M486.6 221.1h5.8"/>
<path d="M486.4 207.0h5.8M486.4 219.6h5.8"/>
<path d="M486.2 208.4h5.8M486.2 226.0h5.8"/>
<path d="M486.4 208.0h5.8M486.4 228.9h5.8"/>
<path d="M486.4 213.5h5.8M486.4 233.3h5.8"/>
<path d="M486.7 216.0h5.8M486.7 232.7h5.8"/>
<path d="M486.3 219.8h5.8M486.3 234.3h5.8"/>
<path d="M486.6 225.0h5.8M486.6 239.6h5.8"/>
<path d="M487.1 226.6h5.8M487.1 244.0h5.8"/>
<path d="M486.3 229.5h5.8M486.3 242.6h5.8"/>
<path d="M486.2 232.2h5.8M486.2 247.1h5.8"/>
<path d="M486.7 231.1h5.8M486.7 253.8h5.8"/>
<path d="M486.5 238.5h5.8M486.5 255.4h5.8"/>
<path d="M486.5 241.3h5.8M486.5 257.3h5.8"/>
<path d="M486.4 239.1h5.8M486.4 262.7h5.8"/>
<path d="M486.6 244.4h5.8M486.6 263.9h5.8"/>
<path d="M486.3 251.8h5.8M486.3 267.0h5.8"/>
<path d="M486.5 251.9h5.8M486.5 269.3h5.8"/>
<path d="M486.9 254.5h5.8M486.9 277.0h5.8"/>
<path d="M486.1 255.7h5.8M486.1 276.2h5.8"/>
<path d="M486.6 262.1h5.8M486.6 281.1h5.8"/>
<path d="M486.5 260.4h5.8M486.5 283.5h5.8"/>
<path d="M487.0 265.6h5.8M487.0 289.3h5.8"/>
<path d="M491.2 27.9h5.8M491.2 65.5h5.8"/>
<path d="M491.0 63.4h5.8M491.0 89.6h5.8"/>
<path d="M491.3 60.6h5.8M491.3 97.8h5.8"/>
<path d="M491.3 64.4h5.8M491.3 99.1h5.8"/>
<path d="M491.2 71.0h5.8M491.2 95.6h5.8"/>
<path d="M491.1 67.7h5.8M491.1 104.5h5.8"/>
<path d="M491.1 75.0h5.8M491.1 100.8h5.8"/>
<path d="M491.3 72.3h5.8M491.3 106.1h5.8"/>
<path d="M491.0 75.3h5.8M491.0 106.7h5.8"/>
<path d="M491.2 80.6h5.8M491.2 107.7h5.8"/>
<path d="M491.0 81.0h5.8M491.0 111.0h5.8"/>
<path d="M491.4 79.0h5.8M491.4 115.9h5.8"/>
<path d="M491.2 85.5h5.8M491.2 114.2h5.8"/>
<path d="M491.4 81.4h5.8M491.4 119.5h5.8"/>
<path d="M491.0 85.2h5.8M491.0 119.2h5.8"/>
<path d="M491.2 89.9h5.8M491.2 119.0h5.8"/>
<path d="M491.4 91.8h5.8M491.4 120.4h5.8"/>
<path d="M491.1 90.5h5.8M491.1 122.9h5.8"/>
<path d="M491.0 89.5h5.8M491.0 129.4h5.8"/>
<path d="M491.2 97.2h5.8M491.2 125.3h5.8"/>
<path d="M491.1 93.1h5.8M491.1 133.5h5.8"/>
<path d="M491.1 94.1h5.8M491.1 133.3h5.8"/>
<path d="M491.5 106.1h5.8M491.5 128.0h5.8"/>
<path d="M491.0 112.8h5.8M491.0 133.8h5.8"/>
<path d="M491.5 124.8h5.8M491.5 142.5h5.8"/>
<path d="M491.0 124.9h5.8M491.0 152.6h5.8"/>
<path d="M490.9 135.6h5.8M490.9 152.4h5.8"/>
<path d="M491.4 139.5h5.8M491.4 166.1h5.8"/>
<path d="M491.5 148.5h5.8M491.5 175.7h5.8"/>
<path d="M491.0 152.7h5.8M491.0 179.9h5.8"/>
<path d="M490.9 164.2h5.8M490.9 188.2h5.8"/>
<path d="M491.1 170.7h5.8M491.1 190.6h5.8"/>
<path d="M493.9 162.1h5.8M493.9 182.6h5.8"/>
<path d="M494.7 165.7h5.8M494.7 183.7h5.8"/>
<path d="M494.1 167.1h5.8M494.1 188.8h5.8"/>
<path d="M494.6 168.2h5.8M494.6 191.1h5.8"/>
<path d="M494.3 169.1h5.8M494.3 191.1h5.8"/>
<path d="M494.1 172.9h5.8M494.1 194.8h5.8"/>
<path d="M493.9 174.5h5.8M493.9 197.1h5.8"/>
<path d="M494.5 179.3h5.8M494.5 195.9h5.8"/>
<path d="M494.0 172.7h5.8M494.0 203.4h5.8"/>
<path d="M494.5 175.3h5.8M494.5 205.7h5.8"/>
<path d="M494.1 177.0h5.8M494.1 208.3h5.8"/>
<path d="M494.1 181.5h5.8M494.1 209.0h5.8"/>
<path d="M494.1 188.6h5.8M494.1 204.7h5.8"/>
<path d="M494.6 186.4h5.8M494.6 212.6h5.8"/>
<path d="M493.9 192.0h5.8M493.9 211.8h5.8"/>
<path d="M494.7 187.3h5.8M494.7 218.6h5.8"/>
<path d="M494.1 193.3h5.8M494.1 216.2h5.8"/>
<path d="M494.6 197.5h5.8M494.6 216.5h5.8"/>
<path d="M494.5 195.0h5.8M494.5 224.2h5.8"/>
<path d="M494.4 200.9h5.8M494.4 222.2h5.8"/>
<path d="M494.2 198.4h5.8M494.2 226.9h5.8"/>
<path d="M494.1 200.1h5.8M494.1 228.2h5.8"/>
<path d="M494.0 208.2h5.8M494.0 224.8h5.8"/>
<path d="M494.2 203.3h5.8M494.2 234.9h5.8"/>
<path d="M494.7 211.6h5.8M494.7 231.9h5.8"/>
<path d="M494.0 210.2h5.8M494.0 234.2h5.8"/>
<path d="M494.3 215.5h5.8M494.3 235.3h5.8"/>
<path d="M494.4 213.4h5.8M494.4 240.2h5.8"/>
<path d="M494.6 216.2h5.8M494.6 242.8h5.8"/>
<path d="M494.6 219.9h5.8M494.6 240.6h5.8"/>
<path d="M494.2 219.2h5.8M494.2 247.0h5.8"/>
<path d="M494.1 224.4h5.8M494.1 244.4h5.8"/>
<path d="M494.6 223.7h5.8M494.6 248.9h5.8"/>
<path d="M494.2 222.7h5.8M494.2 254.6h5.8"/>
<path d="M494.1 226.5h5.8M494.1 255.5h5.8"/>
<path d="M494.7 234.5h5.8M494.7 252.1h5.8"/>
<path d="M494.6 230.2h5.8M494.6 259.7h5.8"/>
<path d="M493.9 237.5h5.8M493.9 258.2h5.8"/>
<path d="M494.1 232.5h5.8M494.1 264.0h5.8"/>
<path d="M494.6 240.2h5.8M494.6 262.1h5.8"/>
<path d="M494.3 243.7h5.8M494.3 263.8h5.8"/>
<path d="M494.7 246.7h5.8M494.7 264.4h5.8"/>
<path d="M494.4 247.5h5.8M494.4 266.9h5.8"/>
<path d="M494.0 249.1h5.8M494.0 268.4h5.8"/>
<path d="M494.4 247.3h5.8M494.4 273.7h5.8"/>
<path d="M493.9 251.8h5.8M493.9 273.0h5.8"/>
<path d="M494.0 254.9h5.8M494.0 275.9h5.8"/>
<path d="M494.5 254.0h5.8M494.5 278.8h5.8"/>
<path d="M494.0 257.0h5.8M494.0 279.3h5.8"/>
<path d="M494.4 262.4h5.8M494.4 279.8h5.8"/>
<path d="M494.5 261.0h5.8M494.5 283.6h5.8"/>
<path d="M494.1 258.9h5.8M494.1 290.2h5.8"/>
<path d="M494.3 255.0h5.8M494.3 296.0h5.8"/>
<path d="M494.3 252.0h5.8M494.3 300.0h5.8"/>
<path d="M494.3 239.4h5.8M494.3 310.6h5.8"/>
<path d="M498.9 88.8h5.8M498.9 113.2h5.8"/>
<path d="M498.9 100.0h5.8M498.9 113.6h5.8"/>
<path d="M499.0 99.7h5.8M499.0 119.7h5.8"/>
<path d="M498.8 103.6h5.8M498.8 120.8h5.8"/>
<path d="M498.7 104.9h5.8M498.7 123.9h5.8"/>
<path d="M499.0 110.6h5.8M499.0 124.6h5.8"/>
<path d="M498.9 115.6h5.8M498.9 127.3h5.8"/>
<path d="M498.9 113.6h5.8M498.9 130.0h5.8"/>
<path d="M498.7 118.7h5.8M498.7 134.9h5.8"/>
<path d="M498.9 136.8h5.8M498.9 148.3h5.8"/>
<path d="M498.9 139.1h5.8M498.9 158.4h5.8"/>
<path d="M498.9 145.3h5.8M498.9 163.4h5.8"/>
<path d="M498.7 161.3h5.8M498.7 172.6h5.8"/>
<path d="M499.2 166.2h5.8M499.2 181.0h5.8"/>
<path d="M499.2 167.4h5.8M499.2 181.3h5.8"/>
<path d="M499.0 177.8h5.8M499.0 196.1h5.8"/>
<path d="M499.1 182.6h5.8M499.1 194.8h5.8"/>
<path d="M499.1 188.0h5.8M499.1 206.3h5.8"/>
<path d="M498.7 195.4h5.8M498.7 209.4h5.8"/>
<path d="M503.6 139.7h5.8M503.6 153.2h5.8"/>
<path d="M503.8 137.1h5.8M503.8 159.8h5.8"/>
<path d="M503.7 140.1h5.8M503.7 161.2h5.8"/>
<path d="M503.9 146.7h5.8M503.9 160.1h5.8"/>
<path d="M503.7 148.0h5.8M503.7 167.5h5.8"/>
<path d="M503.7 150.2h5.8M503.7 169.2h5.8"/>
<path d="M503.8 154.1h5.8M503.8 171.5h5.8"/>
<path d="M503.4 155.9h5.8M503.4 175.3h5.8"/>
<path d="M503.5 158.0h5.8M503.5 179.1h5.8"/>
<path d="M503.7 165.0h5.8M503.7 179.2h5.8"/>
<path d="M503.5 167.3h5.8M503.5 180.8h5.8"/>
<path d="M503.5 168.0h5.8M503.5 185.3h5.8"/>
<path d="M503.4 169.9h5.8M503.4 189.5h5.8"/>
<path d="M503.8 170.6h5.8M503.8 191.9h5.8"/>
<path d="M503.4 176.2h5.8M503.4 194.3h5.8"/>
<path d="M504.0 180.8h5.8M504.0 194.5h5.8"/>
<path d="M504.0 181.3h5.8M504.0 202.1h5.8"/>
<path d="M503.5 182.5h5.8M503.5 206.3h5.8"/>
<path d="M504.0 184.8h5.8M504.0 207.8h5.8"/>
<path d="M503.9 186.6h5.8M503.9 209.7h5.8"/>
<path d="M503.6 190.1h5.8M503.6 211.2h5.8"/>
<path d="M503.9 196.0h5.8M503.9 211.3h5.8"/>
<path d="M508.0 72.6h5.8M508.0 108.4h5.8"/>
<path d="M507.8 89.9h5.8M507.8 107.9h5.8"/>
<path d="M507.9 97.9h5.8M507.9 113.1h5.8"/>
<path d="M507.9 102.8h5.8M507.9 115.3h5.8"/>
<path d="M507.8 101.5h5.8M507.8 124.7h5.8"/>
<path d="M508.2 115.1h5.8M508.2 129.1h5.8"/>
<path d="M507.8 119.5h5.8M507.8 137.9h5.8"/>
<path d="M507.9 120.4h5.8M507.9 142.9h5.8"/>
<path d="M508.0 122.8h5.8M508.0 145.4h5.8"/>
<path d="M508.3 125.7h5.8M508.3 145.3h5.8"/>
<path d="M508.2 131.3h5.8M508.2 146.5h5.8"/>
<path d="M508.0 134.9h5.8M508.0 151.2h5.8"/>
<path d="M508.0 138.0h5.8M508.0 152.1h5.8"/>
<path d="M507.7 136.7h5.8M507.7 158.6h5.8"/>
<path d="M508.1 137.1h5.8M508.1 160.9h5.8"/>
<path d="M508.1 144.6h5.8M508.1 160.3h5.8"/>
<path d="M507.7 146.6h5.8M507.7 160.4h5.8"/>
<path d="M508.0 148.7h5.8M508.0 166.8h5.8"/>
<path d="M507.8 153.7h5.8M507.8 168.5h5.8"/>
<path d="M507.7 157.1h5.8M507.7 169.1h5.8"/>
<path d="M507.8 156.8h5.8M507.8 173.1h5.8"/>
<path d="M508.1 157.7h5.8M508.1 176.7h5.8"/>
<path d="M508.1 160.9h5.8M508.1 178.6h5.8"/>
<path d="M508.3 164.7h5.8M508.3 179.7h5.8"/>
<path d="M507.8 165.0h5.8M507.8 184.7h5.8"/>
<path d="M508.2 170.9h5.8M508.2 187.8h5.8"/>
<path d="M507.7 170.5h5.8M507.7 190.3h5.8"/>
<path d="M507.9 173.9h5.8M507.9 193.7h5.8"/>
<path d="M508.3 175.7h5.8M508.3 196.5h5.8"/>
<path d="M508.2 181.9h5.8M508.2 194.5h5.8"/>
<path d="M507.9 184.1h5.8M507.9 199.0h5.8"/>
<path d="M508.2 186.8h5.8M508.2 199.0h5.8"/>
<path d="M508.3 190.0h5.8M508.3 203.7h5.8"/>
<path d="M513.1 83.7h5.8M513.1 108.3h5.8"/>
<path d="M513.2 90.0h5.8M513.2 108.1h5.8"/>
<path d="M513.3 99.7h5.8M513.3 113.8h5.8"/>
<path d="M513.0 104.0h5.8M513.0 116.6h5.8"/>
<path d="M513.2 108.5h5.8M513.2 129.0h5.8"/>
<path d="M513.3 108.9h5.8M513.3 129.8h5.8"/>
<path d="M513.2 118.4h5.8M513.2 135.9h5.8"/>
<path d="M512.9 123.3h5.8M512.9 138.0h5.8"/>
<path d="M513.0 122.5h5.8M513.0 143.5h5.8"/>
<path d="M513.3 127.4h5.8M513.3 148.0h5.8"/>
<path d="M513.1 130.7h5.8M513.1 147.9h5.8"/>
<path d="M513.1 136.1h5.8M513.1 151.3h5.8"/>
<path d="M513.4 138.8h5.8M513.4 153.4h5.8"/>
<path d="M512.8 142.1h5.8M512.8 157.2h5.8"/>
<path d="M513.2 139.0h5.8M513.2 162.3h5.8"/>
<path d="M513.0 143.7h5.8M513.0 166.3h5.8"/>
<path d="M512.9 145.2h5.8M512.9 168.1h5.8"/>
<path d="M513.2 150.4h5.8M513.2 170.4h5.8"/>
<path d="M513.1 153.2h5.8M513.1 175.3h5.8"/>
<path d="M513.3 157.7h5.8M513.3 174.9h5.8"/>
<path d="M513.1 161.4h5.8M513.1 177.1h5.8"/>
<path d="M513.2 164.1h5.8M513.2 177.1h5.8"/>
<path d="M512.9 169.3h5.8M512.9 181.6h5.8"/>
<path d="M513.4 167.9h5.8M513.4 184.1h5.8"/>
<path d="M512.8 172.7h5.8M512.8 185.2h5.8"/>
<path d="M513.2 173.2h5.8M513.2 193.6h5.8"/>
<path d="M512.8 176.8h5.8M512.8 195.9h5.8"/>
<path d="M513.3 177.3h5.8M513.3 199.1h5.8"/>
<path d="M512.8 181.3h5.8M512.8 203.8h5.8"/>
<path d="M513.4 188.8h5.8M513.4 202.1h5.8"/>
<path d="M512.9 190.1h5.8M512.9 202.5h5.8"/>
<path d="M513.3 191.2h5.8M513.3 210.8h5.8"/>
<path d="M513.2 196.1h5.8M513.2 211.5h5.8"/>
<path d="M512.9 194.0h5.8M512.9 215.1h5.8"/>
<path d="M513.0 199.2h5.8M513.0 216.3h5.8"/>
<path d="M524.5 59.4h5.8M524.5 77.0h5.8"/>
<path d="M524.4 65.2h5.8M524.4 80.9h5.8"/>
<path d="M524.5 72.5h5.8M524.5 88.4h5.8"/>
<path d="M524.5 76.3h5.8M524.5 95.4h5.8"/>
<path d="M524.3 77.6h5.8M524.3 96.5h5.8"/>
<path d="M524.6 79.4h5.8M524.6 97.5h5.8"/>
<path d="M524.5 82.3h5.8M524.5 98.9h5.8"/>
<path d="M524.3 80.6h5.8M524.3 104.5h5.8"/>
<path d="M524.3 84.9h5.8M524.3 101.3h5.8"/>
<path d="M524.7 88.8h5.8M524.7 102.8h5.8"/>
<path d="M524.5 85.3h5.8M524.5 108.8h5.8"/>
<path d="M524.5 89.1h5.8M524.5 107.3h5.8"/>
<path d="M524.4 88.4h5.8M524.4 113.7h5.8"/>
<path d="M524.4 90.6h5.8M524.4 113.0h5.8"/>
<path d="M524.3 93.0h5.8M524.3 114.7h5.8"/>
<path d="M524.6 93.7h5.8M524.6 116.0h5.8"/>
<path d="M524.6 98.6h5.8M524.6 116.9h5.8"/>
<path d="M524.5 96.4h5.8M524.5 121.1h5.8"/>
<path d="M524.7 102.8h5.8M524.7 117.1h5.8"/>
<path d="M524.4 99.4h5.8M524.4 124.3h5.8"/>
<path d="M524.5 101.7h5.8M524.5 126.4h5.8"/>
<path d="M524.5 105.1h5.8M524.5 125.5h5.8"/>
<path d="M524.6 107.0h5.8M524.6 128.8h5.8"/>
<path d="M524.4 111.0h5.8M524.4 126.8h5.8"/>
<path d="M524.6 108.9h5.8M524.6 133.8h5.8"/>
<path d="M524.5 109.3h5.8M524.5 134.5h5.8"/>
<path d="M524.2 113.4h5.8M524.2 134.9h5.8"/>
<path d="M524.3 117.1h5.8M524.3 135.4h5.8"/>
<path d="M524.7 113.9h5.8M524.7 140.0h5.8"/>
<path d="M524.2 118.9h5.8M524.2 137.8h5.8"/>
<path d="M524.5 121.3h5.8M524.5 139.2h5.8"/>
<path d="M524.3 118.0h5.8M524.3 145.7h5.8"/>
<path d="M524.2 120.4h5.8M524.2 147.9h5.8"/>
<path d="M524.4 120.8h5.8M524.4 148.6h5.8"/>
<path d="M524.7 126.9h5.8M524.7 148.1h5.8"/>
<path d="M524.6 129.5h5.8M524.6 146.8h5.8"/>
<path d="M524.4 131.6h5.8M524.4 148.0h5.8"/>
<path d="M524.7 129.5h5.8M524.7 153.9h5.8"/>
<path d="M524.6 132.7h5.8M524.6 154.3h5.8"/>
<path d="M524.6 134.1h5.8M524.6 154.9h5.8"/>
<path d="M524.8 136.5h5.8M524.8 157.7h5.8"/>
<path d="M524.7 137.9h5.8M524.7 159.0h5.8"/>
<path d="M524.7 136.2h5.8M524.7 162.8h5.8"/>
<path d="M524.7 138.9h5.8M524.7 165.1h5.8"/>
<path d="M524.6 142.8h5.8M524.6 164.2h5.8"/>
<path d="M524.6 145.9h5.8M524.6 163.1h5.8"/>
<path d="M524.7 144.0h5.8M524.7 168.6h5.8"/>
<path d="M524.3 147.7h5.8M524.3 168.8h5.8"/>
<path d="M524.6 149.1h5.8M524.6 170.1h5.8"/>
<path d="M524.8 152.5h5.8M524.8 170.7h5.8"/>
<path d="M524.7 152.8h5.8M524.7 173.5h5.8"/>
<path d="M524.9 156.3h5.8M524.9 172.7h5.8"/>
<path d="M524.2 153.5h5.8M524.2 178.9h5.8"/>
<path d="M524.5 159.9h5.8M524.5 177.1h5.8"/>
<path d="M524.5 157.2h5.8M524.5 181.8h5.8"/>
<path d="M524.6 158.0h5.8M524.6 184.0h5.8"/>
<path d="M524.4 159.0h5.8M524.4 186.3h5.8"/>
<path d="M524.6 163.4h5.8M524.6 184.1h5.8"/>
<path d="M524.2 162.4h5.8M524.2 190.2h5.8"/>
<path d="M524.1 167.6h5.8M524.1 186.9h5.8"/>
<path d="M524.1 168.4h5.8M524.1 189.4h5.8"/>
<path d="M524.7 170.5h5.8M524.7 190.7h5.8"/>
<path d="M524.3 169.5h5.8M524.3 194.4h5.8"/>
<path d="M524.5 175.4h5.8M524.5 194.0h5.8"/>
<path d="M524.4 176.8h5.8M524.4 195.3h5.8"/>
<path d="M524.7 173.7h5.8M524.7 199.4h5.8"/>
<path d="M523.1 179.7h5.8M523.1 199.3h5.8"/>
<path d="M523.5 182.2h5.8M523.5 199.7h5.8"/>
<path d="M523.4 183.3h5.8M523.4 205.4h5.8"/>
<path d="M522.9 186.6h5.8M522.9 206.1h5.8"/>
<path d="M523.4 189.1h5.8M523.4 206.7h5.8"/>
<path d="M522.9 193.2h5.8M522.9 210.9h5.8"/>
<path d="M523.0 195.1h5.8M523.0 210.9h5.8"/>
<path d="M523.3 196.4h5.8M523.3 213.2h5.8"/>
<path d="M522.9 198.4h5.8M522.9 217.2h5.8"/>
<path d="M523.2 200.3h5.8M523.2 220.9h5.8"/>
<path d="M522.8 112.9h5.8M522.8 131.4h5.8"/>
<path d="M522.8 116.7h5.8M522.8 135.7h5.8"/>
<path d="M522.2 127.2h5.8M522.2 145.5h5.8"/>
<path d="M522.1 136.3h5.8M522.1 146.4h5.8"/>
<path d="M522.6 142.8h5.8M522.6 155.3h5.8"/>
<path d="M522.2 143.8h5.8M522.2 156.1h5.8"/>
<path d="M522.4 154.0h5.8M522.4 165.6h5.8"/>
<path d="M522.7 160.6h5.8M522.7 172.3h5.8"/>
<path d="M522.6 163.3h5.8M522.6 181.1h5.8"/>
<path d="M522.8 167.9h5.8M522.8 185.7h5.8"/>
<path d="M522.3 175.2h5.8M522.3 192.1h5.8"/>
<path d="M522.7 180.6h5.8M522.7 194.9h5.8"/>
<path d="M522.5 189.4h5.8M522.5 202.0h5.8"/>
<path d="M522.2 190.3h5.8M522.2 205.2h5.8"/>
<path d="M522.5 196.9h5.8M522.5 208.3h5.8"/>
<path d="M522.5 203.3h5.8M522.5 218.7h5.8"/>
<path d="M526.3 115.6h5.8M526.3 134.0h5.8"/>
<path d="M526.8 119.9h5.8M526.8 136.5h5.8"/>
<path d="M526.6 128.8h5.8M526.6 143.0h5.8"/>
<path d="M526.4 134.0h5.8M526.4 150.4h5.8"/>
<path d="M526.3 137.9h5.8M526.3 154.0h5.8"/>
<path d="M527.0 145.2h5.8M527.0 158.5h5.8"/>
<path d="M526.7 151.7h5.8M526.7 166.5h5.8"/>
<path d="M526.3 155.6h5.8M526.3 172.8h5.8"/>
<path d="M526.6 159.0h5.8M526.6 177.6h5.8"/>
<path d="M526.7 164.8h5.8M526.7 180.1h5.8"/>
<path d="M526.5 173.1h5.8M526.5 187.5h5.8"/>
<path d="M526.7 174.8h5.8M526.7 193.1h5.8"/>
<path d="M527.0 181.8h5.8M527.0 195.9h5.8"/>
<path d="M526.5 188.1h5.8M526.5 203.2h5.8"/>
<path d="M526.8 194.9h5.8M526.8 212.8h5.8"/>
<path d="M522.6 212.2h5.8M522.6 231.8h5.8"/>
<path d="M530.3 127.4h5.8M530.3 137.8h5.8"/>
<path d="M530.8 135.2h5.8M530.8 149.5h5.8"/>
<path d="M531.0 138.3h5.8M531.0 153.4h5.8"/>
<path d="M529.9 152.4h5.8M529.9 162.8h5.8"/>
<path d="M530.1 153.5h5.8M530.1 168.8h5.8"/>
<path d="M530.9 166.5h5.8M530.9 180.8h5.8"/>
<path d="M530.8 177.3h5.8M530.8 190.2h5.8"/>
<path d="M530.9 182.9h5.8M530.9 195.7h5.8"/>
<path d="M530.1 190.9h5.8M530.1 204.2h5.8"/>
<path d="M476.7 287.9h5.8M476.7 309.3h5.8"/>
<path d="M503.7 218.3h5.8M503.7 251.1h5.8"/>
<path d="M503.7 284.6h5.8M503.7 308.4h5.8"/>
<path d="M509.7 268.6h5.8M509.7 299.6h5.8"/>
<path d="M509.7 262.2h5.8M509.7 350.0h5.8"/>
<path d="M498.6 231.0h5.8M498.6 239.0h5.8"/>
<path d="M498.6 235.5h5.8M498.6 243.5h5.8"/>
<path d="M478.6 167.2h5.8M478.6 180.4h5.8"/>
<path d="M478.0 166.1h5.8M478.0 187.4h5.8"/>
<path d="M478.5 175.4h5.8M478.5 191.9h5.8"/>
<path d="M478.6 177.9h5.8M478.6 196.7h5.8"/>
<path d="M478.2 180.5h5.8M478.2 197.6h5.8"/>
<path d="M478.3 183.4h5.8M478.3 203.1h5.8"/>
<path d="M478.0 190.3h5.8M478.0 209.1h5.8"/>
<path d="M478.1 189.3h5.8M478.1 211.0h5.8"/>
<path d="M478.7 197.6h5.8M478.7 215.0h5.8"/>
<path d="M478.3 198.5h5.8M478.3 217.6h5.8"/>
<path d="M478.8 206.9h5.8M478.8 224.6h5.8"/>
<path d="M478.1 207.8h5.8M478.1 227.5h5.8"/>
<path d="M478.1 214.8h5.8M478.1 226.9h5.8"/>
<path d="M484.2 169.3h5.8M484.2 182.7h5.8"/>
<path d="M483.8 172.2h5.8M483.8 194.6h5.8"/>
<path d="M483.7 173.7h5.8M483.7 194.3h5.8"/>
<path d="M484.3 181.1h5.8M484.3 195.3h5.8"/>
<path d="M484.3 181.0h5.8M484.3 201.5h5.8"/>
<path d="M484.3 191.5h5.8M484.3 204.5h5.8"/>
<path d="M484.3 192.2h5.8M484.3 209.7h5.8"/>
<path d="M483.9 194.1h5.8M483.9 217.6h5.8"/>
<path d="M483.7 202.7h5.8M483.7 214.9h5.8"/>
<path d="M484.4 205.9h5.8M484.4 218.8h5.8"/>
<path d="M484.3 207.8h5.8M484.3 221.8h5.8"/>
<path d="M484.1 214.3h5.8M484.1 227.0h5.8"/>
<path d="M484.2 213.9h5.8M484.2 231.2h5.8"/>
<path d="M483.8 216.7h5.8M483.8 238.3h5.8"/>
<path d="M484.2 220.3h5.8M484.2 239.9h5.8"/>
<path d="M484.0 223.3h5.8M484.0 244.8h5.8"/>
<path d="M484.3 230.4h5.8M484.3 249.2h5.8"/>
<path d="M488.7 175.5h5.8M488.7 199.2h5.8"/>
<path d="M489.4 186.0h5.8M489.4 201.9h5.8"/>
<path d="M489.5 187.2h5.8M489.5 209.1h5.8"/>
<path d="M488.9 194.2h5.8M488.9 211.4h5.8"/>
<path d="M489.0 198.7h5.8M489.0 218.9h5.8"/>
<path d="M489.4 201.3h5.8M489.4 223.0h5.8"/>
<path d="M488.7 207.7h5.8M488.7 222.9h5.8"/>
<path d="M489.2 209.7h5.8M489.2 231.5h5.8"/>
<path d="M488.7 216.5h5.8M488.7 238.5h5.8"/>
<path d="M489.4 222.4h5.8M489.4 241.2h5.8"/>
<path d="M489.4 223.1h5.8M489.4 244.8h5.8"/>
<path d="M489.4 232.4h5.8M489.4 248.6h5.8"/>
<path d="M489.1 231.6h5.8M489.1 253.2h5.8"/>
<path d="M489.3 236.0h5.8M489.3 259.2h5.8"/>
<path d="M489.2 242.4h5.8M489.2 262.5h5.8"/>
<path d="M488.9 250.6h5.8M488.9 265.7h5.8"/>
<path d="M489.3 255.4h5.8M489.3 272.9h5.8"/>
<path d="M489.3 255.1h5.8M489.3 276.4h5.8"/>
<path d="M505.9 147.6h5.8M505.9 170.4h5.8"/>
<path d="M505.8 157.2h5.8M505.8 174.9h5.8"/>
<path d="M505.5 161.9h5.8M505.5 176.2h5.8"/>
<path d="M506.0 163.4h5.8M506.0 179.8h5.8"/>
<path d="M505.7 168.4h5.8M505.7 186.6h5.8"/>
<path d="M505.3 168.0h5.8M505.3 192.0h5.8"/>
<path d="M505.4 175.4h5.8M505.4 195.0h5.8"/>
<path d="M505.5 181.7h5.8M505.5 200.9h5.8"/>
<path d="M505.8 187.5h5.8M505.8 199.8h5.8"/>
<path d="M506.3 185.4h5.8M506.3 207.8h5.8"/>
<path d="M505.9 195.2h5.8M505.9 210.4h5.8"/>
<path d="M508.0 143.2h5.8M508.0 166.5h5.8"/>
<path d="M508.2 149.3h5.8M508.2 172.8h5.8"/>
<path d="M507.7 156.9h5.8M507.7 171.3h5.8"/>
<path d="M507.8 163.6h5.8M507.8 176.2h5.8"/>
<path d="M508.2 169.7h5.8M508.2 187.2h5.8"/>
<path d="M508.2 180.8h5.8M508.2 193.6h5.8"/>
<path d="M507.9 184.5h5.8M507.9 198.0h5.8"/>
<path d="M507.9 190.4h5.8M507.9 209.1h5.8"/>
<path d="M511.1 150.3h5.8M511.1 170.3h5.8"/>
<path d="M510.5 156.1h5.8M510.5 170.0h5.8"/>
<path d="M511.1 161.4h5.8M511.1 176.1h5.8"/>
<path d="M510.4 160.9h5.8M510.4 177.1h5.8"/>
<path d="M511.0 164.7h5.8M511.0 186.7h5.8"/>
<path d="M510.9 166.0h5.8M510.9 186.5h5.8"/>
<path d="M511.1 175.7h5.8M511.1 188.4h5.8"/>
<path d="M510.9 172.2h5.8M510.9 195.5h5.8"/>
<path d="M510.4 179.8h5.8M510.4 198.9h5.8"/>
<path d="M510.2 185.3h5.8M510.2 201.2h5.8"/>
<path d="M510.2 186.2h5.8M510.2 204.0h5.8"/>
<path d="M510.3 191.5h5.8M510.3 205.2h5.8"/>
<path d="M510.1 193.5h5.8M510.1 214.1h5.8"/>
<path d="M512.8 139.9h5.8M512.8 163.1h5.8"/>
<path d="M513.4 148.3h5.8M513.4 170.7h5.8"/>
<path d="M512.9 163.7h5.8M512.9 181.1h5.8"/>
<path d="M513.4 162.9h5.8M513.4 185.1h5.8"/>
<path d="M513.1 177.8h5.8M513.1 193.9h5.8"/>
<path d="M513.1 185.4h5.8M513.1 204.9h5.8"/>
<path d="M512.9 191.3h5.8M512.9 203.9h5.8"/>
<path d="M513.1 202.9h5.8M513.1 216.6h5.8"/>
<path d="M524.3 104.9h5.8M524.3 125.8h5.8"/>
<path d="M524.3 104.1h5.8M524.3 130.1h5.8"/>
<path d="M524.2 113.4h5.8M524.2 135.3h5.8"/>
<path d="M524.9 121.7h5.8M524.9 139.1h5.8"/>
<path d="M524.1 127.3h5.8M524.1 154.0h5.8"/>
<path d="M524.2 134.0h5.8M524.2 155.7h5.8"/>
<path d="M524.3 139.5h5.8M524.3 157.9h5.8"/>
<path d="M525.0 141.3h5.8M525.0 169.3h5.8"/>
<path d="M524.1 155.2h5.8M524.1 174.7h5.8"/>
<path d="M524.1 158.5h5.8M524.1 183.3h5.8"/>
<path d="M525.0 165.2h5.8M525.0 181.4h5.8"/>
<path d="M524.3 173.8h5.8M524.3 191.5h5.8"/>
<path d="M524.8 172.7h5.8M524.8 195.0h5.8"/>
<path d="M521.2 127.9h5.8M521.2 147.0h5.8"/>
<path d="M521.4 145.4h5.8M521.4 156.7h5.8"/>
<path d="M521.6 155.1h5.8M521.6 172.3h5.8"/>
<path d="M520.9 171.7h5.8M520.9 182.5h5.8"/>
<path d="M521.3 189.3h5.8M521.3 202.0h5.8"/>
<path d="M521.4 195.0h5.8M521.4 212.1h5.8"/>
<path d="M528.2 137.8h5.8M528.2 149.8h5.8"/>
<path d="M528.3 139.5h5.8M528.3 153.6h5.8"/>
<path d="M527.7 155.4h5.8M527.7 173.5h5.8"/>
<path d="M528.4 161.8h5.8M528.4 180.5h5.8"/>
<path d="M527.6 174.1h5.8M527.6 193.2h5.8"/>
<path d="M528.5 188.0h5.8M528.5 200.7h5.8"/>
<path d="M476.9 187.8h5.8M476.9 204.2h5.8"/>
<path d="M476.5 191.7h5.8M476.5 210.9h5.8"/>
<path d="M476.6 197.2h5.8M476.6 214.5h5.8"/>
<path d="M476.2 203.7h5.8M476.2 224.3h5.8"/>
<path d="M477.0 213.1h5.8M477.0 228.9h5.8"/>
<path d="M480.0 188.6h5.8M480.0 209.6h5.8"/>
<path d="M480.5 189.4h5.8M480.5 212.9h5.8"/>
<path d="M480.1 200.3h5.8M480.1 218.7h5.8"/>
<path d="M479.6 203.7h5.8M479.6 227.3h5.8"/>
<path d="M479.8 212.9h5.8M479.8 226.1h5.8"/>
<path d="M483.4 190.4h5.8M483.4 202.7h5.8"/>
<path d="M483.3 194.6h5.8M483.3 209.0h5.8"/>
<path d="M483.2 198.1h5.8M483.2 217.0h5.8"/>
<path d="M483.3 210.2h5.8M483.3 223.5h5.8"/>
<path d="M483.3 218.9h5.8M483.3 231.5h5.8"/>
</g>
<g fill="#1f77b4" fill-opacity="0.12" stroke="#1f77b4" stroke-opacity="0.21" stroke-width="1.5">
<circle cx="113.2" cy="227.7" r="2.3"/>
<circle cx="110.9" cy="56.3" r="2.3"/>
<circle cx="162.9" cy="69.4" r="2.3"/>
<circle cx="159.2" cy="80.0" r="2.3"/>
<circle cx="172.9" cy="72.7" r="2.3"/>
<circle cx="172.9" cy="85.8" r="2.3"/>
<circle cx="179.9" cy="85.8" r="2.3"/>
<circle cx="193.0" cy="44.7" r="2.3"/>
<circle cx="203.8" cy="57.3" r="2.3"/>
<circle cx="203.6" cy="68.4" r="2.3"/>
<circle cx="204.0" cy="73.0" r="2.3"/>
<circle cx="203.6" cy="90.5" r="2.3"/>
<circle cx="213.0" cy="27.3" r="2.3"/>
<circle cx="213.0" cy="43.5" r="2.3"/>
<circle cx="219.5" cy="93.3" r="2.3"/>
<circle cx="219.5" cy="95.5" r="2.3"/>
<circle cx="219.5" cy="94.5" r="2.3"/>
<circle cx="157.9" cy="122.4" r="2.3"/>
<circle cx="162.9" cy="102.4" r="2.3"/>
<circle cx="179.9" cy="102.0" r="2.3"/>
<circle cx="189.0" cy="111.6" r="2.3"/>
<circle cx="193.0" cy="138.6" r="2.3"/>
<circle cx="206.2" cy="111.6" r="2.3"/>
<circle cx="206.2" cy="94.2" r="2.3"/>
<circle cx="239.6" cy="102.9" r="2.3"/>
<circle cx="257.3" cy="83.8" r="2.3"/>
<circle cx="257.3" cy="95.0" r="2.3"/>
<circle cx="257.3" cy="100.0" r="2.3"/>
<circle cx="257.3" cy="105.0" r="2.3"/>
<circle cx="257.3" cy="110.0" r="2.3"/>
<circle cx="257.3" cy="116.0" r="2.3"/>
<circle cx="257.3" cy="121.0" r="2.3"/>
<circle cx="270.1" cy="72.8" r="2.3"/>
<circle cx="282.5" cy="38.5" r="2.3"/>
<circle cx="282.5" cy="60.3" r="2.3"/>
<circle cx="272.8" cy="104.0" r="2.3"/>
<circle cx="272.8" cy="110.0" r="2.3"/>
<circle cx="272.8" cy="116.0" r="2.3"/>
<circle cx="272.8" cy="122.0" r="2.3"/>
<circle cx="272.8" cy="128.0" r="2.3"/>
<circle cx="272.8" cy="134.0" r="2.3"/>
<circle cx="272.8" cy="139.0" r="2.3"/>
<circle cx="272.8" cy="142.0" r="2.3"/>
<circle cx="288.0" cy="101.7" r="2.3"/>
<circle cx="288.0" cy="124.0" r="2.3"/>
<circle cx="288.0" cy="123.5" r="2.3"/>
<circle cx="303.6" cy="148.0" r="2.3"/>
<circle cx="344.7" cy="78.0" r="2.3"/>
<circle cx="344.7" cy="82.0" r="2.3"/>
<circle cx="344.7" cy="86.0" r="2.3"/>
<circle cx="344.7" cy="90.0" r="2.3"/>
<circle cx="344.7" cy="93.0" r="2.3"/>
<circle cx="344.7" cy="96.0" r="2.3"/>
<circle cx="370.2" cy="113.2" r="2.3"/>
<circle cx="370.1" cy="122.2" r="2.3"/>
<circle cx="370.2" cy="125.1" r="2.3"/>
<circle cx="370.2" cy="128.9" r="2.3"/>
<circle cx="370.1" cy="134.2" r="2.3"/>
<circle cx="370.3" cy="138.1" r="2.3"/>
<circle cx="370.2" cy="141.1" r="2.3"/>
<circle cx="370.2" cy="146.4" r="2.3"/>
<circle cx="370.3" cy="148.2" r="2.3"/>
<circle cx="370.1" cy="152.4" r="2.3"/>
<circle cx="370.1" cy="158.9" r="2.3"/>
<circle cx="370.2" cy="162.0" r="2.3"/>
<circle cx="370.1" cy="163.7" r="2.3"/>
<circle cx="370.2" cy="169.9" r="2.3"/>
<circle cx="370.2" cy="173.4" r="2.3"/>
<circle cx="370.2" cy="181.0" r="2.3"/>
<circle cx="370.2" cy="186.0" r="2.3"/>
<circle cx="370.1" cy="193.3" r="2.3"/>
<circle cx="370.2" cy="205.0" r="2.3"/>
<circle cx="392.3" cy="125.3" r="2.3"/>
<circle cx="392.3" cy="127.4" r="2.3"/>
<circle cx="392.3" cy="131.1" r="2.3"/>
<circle cx="392.4" cy="136.5" r="2.3"/>
<circle cx="392.3" cy="140.7" r="2.3"/>
<circle cx="392.3" cy="143.3" r="2.3"/>
<circle cx="392.4" cy="147.7" r="2.3"/>
<circle cx="392.2" cy="150.6" r="2.3"/>
<circle cx="392.4" cy="154.1" r="2.3"/>
<circle cx="392.3" cy="156.4" r="2.3"/>
<circle cx="392.3" cy="159.0" r="2.3"/>
<circle cx="392.2" cy="162.9" r="2.3"/>
<circle cx="392.3" cy="168.0" r="2.3"/>
<circle cx="387.1" cy="141.8" r="2.3"/>
<circle cx="395.2" cy="127.5" r="2.3"/>
<circle cx="395.4" cy="130.6" r="2.3"/>
<circle cx="402.4" cy="128.2" r="2.3"/>
<circle cx="403.2" cy="150.0" r="2.3"/>
<circle cx="404.2" cy="151.7" r="2.3"/>
<circle cx="406.0" cy="141.8" r="2.3"/>
<circle cx="402.3" cy="141.0" r="2.3"/>
<circle cx="405.0" cy="143.0" r="2.3"/>
<circle cx="411.2" cy="130.0" r="2.3"/>
<circle cx="411.2" cy="128.0" r="2.3"/>
<circle cx="411.1" cy="122.4" r="2.3"/>
<circle cx="411.1" cy="128.5" r="2.3"/>
<circle cx="411.3" cy="130.8" r="2.3"/>
<circle cx="411.1" cy="135.3" r="2.3"/>
<circle cx="411.3" cy="137.1" r="2.3"/>
<circle cx="411.1" cy="139.8" r="2.3"/>
<circle cx="411.2" cy="143.5" r="2.3"/>
<circle cx="411.1" cy="147.1" r="2.3"/>
<circle cx="411.2" cy="150.9" r="2.3"/>
<circle cx="411.2" cy="155.5" r="2.3"/>
<circle cx="411.1" cy="158.9" r="2.3"/>
<circle cx="411.2" cy="165.0" r="2.3"/>
<circle cx="411.2" cy="158.0" r="2.3"/>
<circle cx="417.8" cy="96.0" r="2.3"/>
<circle cx="417.8" cy="160.1" r="2.3"/>
<circle cx="417.8" cy="197.2" r="2.3"/>
<circle cx="341.0" cy="206.4" r="2.3"/>
<circle cx="318.7" cy="212.0" r="2.3"/>
<circle cx="317.4" cy="261.0" r="2.3"/>
<circle cx="382.0" cy="224.0" r="2.3"/>
<circle cx="380.9" cy="242.3" r="2.3"/>
<circle cx="429.4" cy="140.0" r="2.3"/>
<circle cx="429.5" cy="137.0" r="2.3"/>
<circle cx="429.4" cy="139.3" r="2.3"/>
<circle cx="429.3" cy="144.1" r="2.3"/>
<circle cx="429.3" cy="146.3" r="2.3"/>
<circle cx="429.3" cy="149.5" r="2.3"/>
<circle cx="429.4" cy="153.6" r="2.3"/>
<circle cx="429.4" cy="160.4" r="2.3"/>
<circle cx="429.4" cy="161.8" r="2.3"/>
<circle cx="429.5" cy="165.1" r="2.3"/>
<circle cx="429.4" cy="170.3" r="2.3"/>
<circle cx="429.4" cy="172.7" r="2.3"/>
<circle cx="429.3" cy="179.3" r="2.3"/>
<circle cx="429.4" cy="186.0" r="2.3"/>
<circle cx="437.4" cy="152.6" r="2.3"/>
<circle cx="437.4" cy="155.4" r="2.3"/>
<circle cx="439.7" cy="154.9" r="2.3"/>
<circle cx="437.4" cy="159.0" r="2.3"/>
<circle cx="454.4" cy="84.0" r="2.3"/>
<circle cx="454.4" cy="87.3" r="2.3"/>
<circle cx="454.2" cy="88.2" r="2.3"/>
<circle cx="454.6" cy="90.2" r="2.3"/>
<circle cx="454.3" cy="90.6" r="2.3"/>
<circle cx="454.4" cy="92.7" r="2.3"/>
<circle cx="454.3" cy="93.5" r="2.3"/>
<circle cx="454.6" cy="95.9" r="2.3"/>
<circle cx="454.5" cy="97.0" r="2.3"/>
<circle cx="454.3" cy="98.0" r="2.3"/>
<circle cx="454.3" cy="98.7" r="2.3"/>
<circle cx="454.6" cy="101.1" r="2.3"/>
<circle cx="454.6" cy="102.9" r="2.3"/>
<circle cx="454.3" cy="103.5" r="2.3"/>
<circle cx="454.3" cy="104.6" r="2.3"/>
<circle cx="454.6" cy="107.0" r="2.3"/>
<circle cx="454.5" cy="108.1" r="2.3"/>
<circle cx="454.6" cy="109.5" r="2.3"/>
<circle cx="454.4" cy="111.1" r="2.3"/>
<circle cx="454.3" cy="112.5" r="2.3"/>
<circle cx="454.3" cy="114.2" r="2.3"/>
<circle cx="454.5" cy="115.6" r="2.3"/>
<circle cx="454.2" cy="115.8" r="2.3"/>
<circle cx="454.2" cy="118.2" r="2.3"/>
<circle cx="454.5" cy="119.9" r="2.3"/>
<circle cx="454.2" cy="120.7" r="2.3"/>
<circle cx="454.5" cy="122.7" r="2.3"/>
<circle cx="454.4" cy="124.0" r="2.3"/>
<circle cx="454.3" cy="125.3" r="2.3"/>
<circle cx="454.3" cy="125.9" r="2.3"/>
<circle cx="454.4" cy="127.3" r="2.3"/>
<circle cx="454.3" cy="129.6" r="2.3"/>
<circle cx="454.6" cy="130.6" r="2.3"/>
<circle cx="454.4" cy="132.5" r="2.3"/>
<circle cx="454.2" cy="133.3" r="2.3"/>
<circle cx="450.9" cy="139.0" r="2.3"/>
<circle cx="451.1" cy="144.3" r="2.3"/>
<circle cx="451.0" cy="151.8" r="2.3"/>
<circle cx="451.2" cy="157.2" r="2.3"/>
<circle cx="451.0" cy="162.6" r="2.3"/>
<circle cx="454.9" cy="142.2" r="2.3"/>
<circle cx="455.1" cy="147.5" r="2.3"/>
<circle cx="454.9" cy="152.1" r="2.3"/>
<circle cx="454.9" cy="157.9" r="2.3"/>
<circle cx="455.1" cy="162.2" r="2.3"/>
<circle cx="450.7" cy="189.3" r="2.3"/>
<circle cx="450.7" cy="178.0" r="2.3"/>
<circle cx="450.7" cy="172.0" r="2.3"/>
<circle cx="455.5" cy="167.0" r="2.3"/>
<circle cx="455.5" cy="186.1" r="2.3"/>
<circle cx="460.2" cy="170.6" r="2.3"/>
<circle cx="460.2" cy="181.2" r="2.3"/>
<circle cx="450.7" cy="214.0" r="2.3"/>
<circle cx="450.9" cy="215.1" r="2.3"/>
<circle cx="450.9" cy="216.7" r="2.3"/>
<circle cx="450.5" cy="218.1" r="2.3"/>
<circle cx="450.6" cy="220.3" r="2.3"/>
<circle cx="450.8" cy="224.1" r="2.3"/>
<circle cx="450.8" cy="225.2" r="2.3"/>
<circle cx="450.9" cy="227.6" r="2.3"/>
<circle cx="450.9" cy="230.1" r="2.3"/>
<circle cx="450.0" cy="128.2" r="2.3"/>
<circle cx="470.4" cy="131.3" r="2.3"/>
<circle cx="100.8" cy="78.1" r="2.3"/>
<circle cx="100.8" cy="80.9" r="2.3"/>
<circle cx="100.8" cy="96.1" r="2.3"/>
<circle cx="100.8" cy="106.4" r="2.3"/>
<circle cx="101.0" cy="113.0" r="2.3"/>
<circle cx="100.8" cy="117.3" r="2.3"/>
<circle cx="100.6" cy="124.6" r="2.3"/>
<circle cx="100.6" cy="133.3" r="2.3"/>
<circle cx="100.6" cy="137.3" r="2.3"/>
<circle cx="100.8" cy="143.4" r="2.3"/>
<circle cx="100.9" cy="150.4" r="2.3"/>
<circle cx="100.7" cy="151.0" r="2.3"/>
<circle cx="100.7" cy="159.7" r="2.3"/>
<circle cx="101.0" cy="163.0" r="2.3"/>
<circle cx="100.8" cy="172.0" r="2.3"/>
<circle cx="100.8" cy="176.0" r="2.3"/>
<circle cx="100.8" cy="182.0" r="2.3"/>
<circle cx="97.5" cy="114.3" r="2.3"/>
<circle cx="98.0" cy="126.1" r="2.3"/>
<circle cx="98.0" cy="130.5" r="2.3"/>
<circle cx="98.2" cy="139.7" r="2.3"/>
<circle cx="97.5" cy="155.2" r="2.3"/>
<circle cx="98.1" cy="157.6" r="2.3"/>
<circle cx="106.4" cy="100.0" r="2.3"/>
<circle cx="106.4" cy="101.0" r="2.3"/>
<circle cx="106.4" cy="99.7" r="2.3"/>
<circle cx="106.3" cy="101.7" r="2.3"/>
<circle cx="106.2" cy="103.8" r="2.3"/>
<circle cx="106.3" cy="105.6" r="2.3"/>
<circle cx="106.5" cy="108.3" r="2.3"/>
<circle cx="106.3" cy="110.9" r="2.3"/>
<circle cx="106.3" cy="112.1" r="2.3"/>
<circle cx="106.4" cy="118.1" r="2.3"/>
<circle cx="106.7" cy="120.7" r="2.3"/>
<circle cx="106.4" cy="125.4" r="2.3"/>
<circle cx="106.3" cy="128.9" r="2.3"/>
<circle cx="106.7" cy="131.9" r="2.3"/>
<circle cx="106.5" cy="135.9" r="2.3"/>
<circle cx="106.3" cy="137.9" r="2.3"/>
<circle cx="109.5" cy="108.6" r="2.3"/>
<circle cx="109.6" cy="113.7" r="2.3"/>
<circle cx="110.0" cy="121.0" r="2.3"/>
<circle cx="109.6" cy="123.0" r="2.3"/>
<circle cx="109.6" cy="128.4" r="2.3"/>
<circle cx="110.1" cy="132.1" r="2.3"/>
<circle cx="109.6" cy="137.9" r="2.3"/>
<circle cx="116.6" cy="93.1" r="2.3"/>
<circle cx="116.6" cy="90.0" r="2.3"/>
<circle cx="116.6" cy="98.0" r="2.3"/>
<circle cx="116.6" cy="104.0" r="2.3"/>
<circle cx="112.8" cy="135.6" r="2.3"/>
<circle cx="112.8" cy="135.8" r="2.3"/>
<circle cx="110.9" cy="77.9" r="2.3"/>
<circle cx="126.2" cy="88.4" r="2.3"/>
<circle cx="131.8" cy="96.5" r="2.3"/>
<circle cx="126.2" cy="117.5" r="2.3"/>
<circle cx="126.2" cy="132.0" r="2.3"/>
<circle cx="128.6" cy="131.7" r="2.3"/>
<circle cx="478.5" cy="148.0" r="2.3"/>
<circle cx="478.3" cy="154.1" r="2.3"/>
<circle cx="478.4" cy="161.2" r="2.3"/>
<circle cx="478.4" cy="166.7" r="2.3"/>
<circle cx="478.2" cy="172.8" r="2.3"/>
<circle cx="478.1" cy="175.1" r="2.3"/>
<circle cx="478.5" cy="178.7" r="2.3"/>
<circle cx="478.5" cy="183.3" r="2.3"/>
<circle cx="478.3" cy="186.6" r="2.3"/>
<circle cx="478.2" cy="190.0" r="2.3"/>
<circle cx="478.1" cy="191.9" r="2.3"/>
<circle cx="478.5" cy="195.7" r="2.3"/>
<circle cx="478.2" cy="198.4" r="2.3"/>
<circle cx="478.6" cy="200.5" r="2.3"/>
<circle cx="478.5" cy="204.5" r="2.3"/>
<circle cx="478.5" cy="207.0" r="2.3"/>
<circle cx="478.2" cy="208.1" r="2.3"/>
<circle cx="478.6" cy="211.3" r="2.3"/>
<circle cx="478.5" cy="215.9" r="2.3"/>
<circle cx="478.1" cy="218.5" r="2.3"/>
<circle cx="484.4" cy="125.0" r="2.3"/>
<circle cx="484.4" cy="130.0" r="2.3"/>
<circle cx="484.5" cy="138.7" r="2.3"/>
<circle cx="484.5" cy="144.3" r="2.3"/>
<circle cx="484.4" cy="155.5" r="2.3"/>
<circle cx="484.1" cy="162.2" r="2.3"/>
<circle cx="484.1" cy="166.5" r="2.3"/>
<circle cx="484.2" cy="174.2" r="2.3"/>
<circle cx="484.4" cy="178.0" r="2.3"/>
<circle cx="484.5" cy="179.6" r="2.3"/>
<circle cx="484.5" cy="183.1" r="2.3"/>
<circle cx="484.3" cy="184.7" r="2.3"/>
<circle cx="484.4" cy="188.2" r="2.3"/>
<circle cx="484.3" cy="190.5" r="2.3"/>
<circle cx="484.5" cy="195.5" r="2.3"/>
<circle cx="484.4" cy="198.1" r="2.3"/>
<circle cx="484.6" cy="199.9" r="2.3"/>
<circle cx="484.7" cy="205.6" r="2.3"/>
<circle cx="484.6" cy="207.1" r="2.3"/>
<circle cx="484.3" cy="210.1" r="2.3"/>
<circle cx="484.2" cy="214.7" r="2.3"/>
<circle cx="484.4" cy="215.3" r="2.3"/>
<circle cx="484.6" cy="218.3" r="2.3"/>
<circle cx="484.5" cy="223.7" r="2.3"/>
<circle cx="484.4" cy="229.0" r="2.3"/>
<circle cx="489.0" cy="133.1" r="2.3"/>
<circle cx="489.5" cy="155.6" r="2.3"/>
<circle cx="489.5" cy="156.3" r="2.3"/>
<circle cx="489.2" cy="164.4" r="2.3"/>
<circle cx="489.8" cy="170.7" r="2.3"/>
<circle cx="489.8" cy="177.3" r="2.3"/>
<circle cx="489.7" cy="180.8" r="2.3"/>
<circle cx="489.4" cy="181.9" r="2.3"/>
<circle cx="489.6" cy="187.1" r="2.3"/>
<circle cx="489.3" cy="188.4" r="2.3"/>
<circle cx="489.8" cy="190.5" r="2.3"/>
<circle cx="489.2" cy="196.0" r="2.3"/>
<circle cx="489.2" cy="197.8" r="2.3"/>
<circle cx="489.9" cy="202.1" r="2.3"/>
<circle cx="489.9" cy="204.2" r="2.3"/>
<circle cx="489.7" cy="207.0" r="2.3"/>
<circle cx="489.5" cy="210.5" r="2.3"/>
<circle cx="489.3" cy="213.3" r="2.3"/>
<circle cx="489.1" cy="217.2" r="2.3"/>
<circle cx="489.3" cy="218.5" r="2.3"/>
<circle cx="489.3" cy="223.4" r="2.3"/>
<circle cx="489.6" cy="224.4" r="2.3"/>
<circle cx="489.2" cy="227.0" r="2.3"/>
<circle cx="489.5" cy="232.3" r="2.3"/>
<circle cx="490.0" cy="235.3" r="2.3"/>
<circle cx="489.2" cy="236.0" r="2.3"/>
<circle cx="489.1" cy="239.7" r="2.3"/>
<circle cx="489.6" cy="242.4" r="2.3"/>
<circle cx="489.4" cy="246.9" r="2.3"/>
<circle cx="489.4" cy="249.3" r="2.3"/>
<circle cx="489.3" cy="250.9" r="2.3"/>
<circle cx="489.5" cy="254.1" r="2.3"/>
<circle cx="489.2" cy="259.4" r="2.3"/>
<circle cx="489.4" cy="260.6" r="2.3"/>
<circle cx="489.8" cy="265.7" r="2.3"/>
<circle cx="489.0" cy="265.9" r="2.3"/>
<circle cx="489.5" cy="271.6" r="2.3"/>
<circle cx="489.4" cy="271.9" r="2.3"/>
<circle cx="489.9" cy="277.5" r="2.3"/>
<circle cx="494.1" cy="46.7" r="2.3"/>
<circle cx="493.9" cy="76.5" r="2.3"/>
<circle cx="494.2" cy="79.2" r="2.3"/>
<circle cx="494.2" cy="81.7" r="2.3"/>
<circle cx="494.1" cy="83.3" r="2.3"/>
<circle cx="494.0" cy="86.1" r="2.3"/>
<circle cx="494.0" cy="87.9" r="2.3"/>
<circle cx="494.2" cy="89.2" r="2.3"/>
<circle cx="493.9" cy="91.0" r="2.3"/>
<circle cx="494.1" cy="94.1" r="2.3"/>
<circle cx="493.9" cy="96.0" r="2.3"/>
<circle cx="494.3" cy="97.4" r="2.3"/>
<circle cx="494.1" cy="99.8" r="2.3"/>
<circle cx="494.3" cy="100.4" r="2.3"/>
<circle cx="493.9" cy="102.2" r="2.3"/>
<circle cx="494.1" cy="104.5" r="2.3"/>
<circle cx="494.3" cy="106.1" r="2.3"/>
<circle cx="494.0" cy="106.7" r="2.3"/>
<circle cx="493.9" cy="109.5" r="2.3"/>
<circle cx="494.1" cy="111.2" r="2.3"/>
<circle cx="494.0" cy="113.3" r="2.3"/>
<circle cx="494.0" cy="113.7" r="2.3"/>
<circle cx="494.4" cy="117.1" r="2.3"/>
<circle cx="493.9" cy="123.3" r="2.3"/>
<circle cx="494.4" cy="133.7" r="2.3"/>
<circle cx="493.9" cy="138.8" r="2.3"/>
<circle cx="493.8" cy="144.0" r="2.3"/>
<circle cx="494.3" cy="152.8" r="2.3"/>
<circle cx="494.4" cy="162.1" r="2.3"/>
<circle cx="493.9" cy="166.3" r="2.3"/>
<circle cx="493.8" cy="176.2" r="2.3"/>
<circle cx="494.0" cy="180.7" r="2.3"/>
<circle cx="496.8" cy="172.3" r="2.3"/>
<circle cx="497.6" cy="174.7" r="2.3"/>
<circle cx="497.0" cy="177.9" r="2.3"/>
<circle cx="497.5" cy="179.6" r="2.3"/>
<circle cx="497.2" cy="180.1" r="2.3"/>
<circle cx="497.0" cy="183.8" r="2.3"/>
<circle cx="496.8" cy="185.8" r="2.3"/>
<circle cx="497.4" cy="187.6" r="2.3"/>
<circle cx="496.9" cy="188.1" r="2.3"/>
<circle cx="497.4" cy="190.5" r="2.3"/>
<circle cx="497.0" cy="192.7" r="2.3"/>
<circle cx="497.0" cy="195.2" r="2.3"/>
<circle cx="497.0" cy="196.6" r="2.3"/>
<circle cx="497.5" cy="199.5" r="2.3"/>
<circle cx="496.8" cy="201.9" r="2.3"/>
<circle cx="497.6" cy="203.0" r="2.3"/>
<circle cx="497.0" cy="204.8" r="2.3"/>
<circle cx="497.5" cy="207.0" r="2.3"/>
<circle cx="497.4" cy="209.6" r="2.3"/>
<circle cx="497.3" cy="211.5" r="2.3"/>
<circle cx="497.1" cy="212.6" r="2.3"/>
<circle cx="497.0" cy="214.2" r="2.3"/>
<circle cx="496.9" cy="216.5" r="2.3"/>
<circle cx="497.1" cy="219.1" r="2.3"/>
<circle cx="497.6" cy="221.8" r="2.3"/>
<circle cx="496.9" cy="222.2" r="2.3"/>
<circle cx="497.2" cy="225.4" r="2.3"/>
<circle cx="497.3" cy="226.8" r="2.3"/>
<circle cx="497.5" cy="229.5" r="2.3"/>
<circle cx="497.5" cy="230.2" r="2.3"/>
<circle cx="497.1" cy="233.1" r="2.3"/>
<circle cx="497.0" cy="234.4" r="2.3"/>
<circle cx="497.5" cy="236.3" r="2.3"/>
<circle cx="497.1" cy="238.7" r="2.3"/>
<circle cx="497.0" cy="241.0" r="2.3"/>
<circle cx="497.6" cy="243.3" r="2.3"/>
<circle cx="497.5" cy="244.9" r="2.3"/>
<circle cx="496.8" cy="247.8" r="2.3"/>
<circle cx="497.0" cy="248.2" r="2.3"/>
<circle cx="497.5" cy="251.2" r="2.3"/>
<circle cx="497.2" cy="253.7" r="2.3"/>
<circle cx="497.6" cy="255.6" r="2.3"/>
<circle cx="497.3" cy="257.2" r="2.3"/>
<circle cx="496.9" cy="258.7" r="2.3"/>
<circle cx="497.3" cy="260.5" r="2.3"/>
<circle cx="496.8" cy="262.4" r="2.3"/>
<circle cx="496.9" cy="265.4" r="2.3"/>
<circle cx="497.4" cy="266.4" r="2.3"/>
<circle cx="496.9" cy="268.1" r="2.3"/>
<circle cx="497.3" cy="271.1" r="2.3"/>
<circle cx="497.4" cy="272.3" r="2.3"/>
<circle cx="497.0" cy="274.6" r="2.3"/>
<circle cx="497.2" cy="275.5" r="2.3"/>
<circle cx="497.2" cy="276.0" r="2.3"/>
<circle cx="497.2" cy="275.0" r="2.3"/>
<circle cx="501.8" cy="101.0" r="2.3"/>
<circle cx="501.8" cy="106.8" r="2.3"/>
<circle cx="501.9" cy="109.7" r="2.3"/>
<circle cx="501.7" cy="112.2" r="2.3"/>
<circle cx="501.6" cy="114.4" r="2.3"/>
<circle cx="501.9" cy="117.6" r="2.3"/>
<circle cx="501.8" cy="121.4" r="2.3"/>
<circle cx="501.8" cy="121.8" r="2.3"/>
<circle cx="501.6" cy="126.8" r="2.3"/>
<circle cx="501.8" cy="142.5" r="2.3"/>
<circle cx="501.8" cy="148.7" r="2.3"/>
<circle cx="501.8" cy="154.3" r="2.3"/>
<circle cx="501.6" cy="167.0" r="2.3"/>
<circle cx="502.1" cy="173.6" r="2.3"/>
<circle cx="502.1" cy="174.4" r="2.3"/>
<circle cx="501.9" cy="186.9" r="2.3"/>
<circle cx="502.0" cy="188.7" r="2.3"/>
<circle cx="502.0" cy="197.2" r="2.3"/>
<circle cx="501.6" cy="202.4" r="2.3"/>
<circle cx="506.5" cy="146.4" r="2.3"/>
<circle cx="506.7" cy="148.5" r="2.3"/>
<circle cx="506.6" cy="150.7" r="2.3"/>
<circle cx="506.8" cy="153.4" r="2.3"/>
<circle cx="506.6" cy="157.8" r="2.3"/>
<circle cx="506.6" cy="159.7" r="2.3"/>
<circle cx="506.7" cy="162.8" r="2.3"/>
<circle cx="506.3" cy="165.6" r="2.3"/>
<circle cx="506.4" cy="168.5" r="2.3"/>
<circle cx="506.6" cy="172.1" r="2.3"/>
<circle cx="506.4" cy="174.0" r="2.3"/>
<circle cx="506.4" cy="176.7" r="2.3"/>
<circle cx="506.3" cy="179.7" r="2.3"/>
<circle cx="506.7" cy="181.3" r="2.3"/>
<circle cx="506.3" cy="185.2" r="2.3"/>
<circle cx="506.9" cy="187.6" r="2.3"/>
<circle cx="506.9" cy="191.7" r="2.3"/>
<circle cx="506.4" cy="194.4" r="2.3"/>
<circle cx="506.9" cy="196.3" r="2.3"/>
<circle cx="506.8" cy="198.1" r="2.3"/>
<circle cx="506.5" cy="200.6" r="2.3"/>
<circle cx="506.8" cy="203.7" r="2.3"/>
<circle cx="510.9" cy="90.5" r="2.3"/>
<circle cx="510.7" cy="98.9" r="2.3"/>
<circle cx="510.8" cy="105.5" r="2.3"/>
<circle cx="510.8" cy="109.0" r="2.3"/>
<circle cx="510.7" cy="113.1" r="2.3"/>
<circle cx="511.1" cy="122.1" r="2.3"/>
<circle cx="510.7" cy="128.7" r="2.3"/>
<circle cx="510.8" cy="131.7" r="2.3"/>
<circle cx="510.9" cy="134.1" r="2.3"/>
<circle cx="511.2" cy="135.5" r="2.3"/>
<circle cx="511.1" cy="138.9" r="2.3"/>
<circle cx="510.9" cy="143.1" r="2.3"/>
<circle cx="510.9" cy="145.1" r="2.3"/>
<circle cx="510.6" cy="147.6" r="2.3"/>
<circle cx="511.0" cy="149.0" r="2.3"/>
<circle cx="511.0" cy="152.5" r="2.3"/>
<circle cx="510.6" cy="153.5" r="2.3"/>
<circle cx="510.9" cy="157.8" r="2.3"/>
<circle cx="510.7" cy="161.1" r="2.3"/>
<circle cx="510.6" cy="163.1" r="2.3"/>
<circle cx="510.7" cy="164.9" r="2.3"/>
<circle cx="511.0" cy="167.2" r="2.3"/>
<circle cx="511.0" cy="169.8" r="2.3"/>
<circle cx="511.2" cy="172.2" r="2.3"/>
<circle cx="510.7" cy="174.9" r="2.3"/>
<circle cx="511.1" cy="179.4" r="2.3"/>
<circle cx="510.6" cy="180.4" r="2.3"/>
<circle cx="510.8" cy="183.8" r="2.3"/>
<circle cx="511.2" cy="186.1" r="2.3"/>
<circle cx="511.1" cy="188.2" r="2.3"/>
<circle cx="510.8" cy="191.5" r="2.3"/>
<circle cx="511.1" cy="192.9" r="2.3"/>
<circle cx="511.2" cy="196.8" r="2.3"/>
<circle cx="516.0" cy="96.0" r="2.3"/>
<circle cx="516.1" cy="99.1" r="2.3"/>
<circle cx="516.2" cy="106.8" r="2.3"/>
<circle cx="515.9" cy="110.3" r="2.3"/>
<circle cx="516.1" cy="118.7" r="2.3"/>
<circle cx="516.2" cy="119.4" r="2.3"/>
<circle cx="516.1" cy="127.1" r="2.3"/>
<circle cx="515.8" cy="130.6" r="2.3"/>
<circle cx="515.9" cy="133.0" r="2.3"/>
<circle cx="516.2" cy="137.7" r="2.3"/>
<circle cx="516.0" cy="139.3" r="2.3"/>
<circle cx="516.0" cy="143.7" r="2.3"/>
<circle cx="516.3" cy="146.1" r="2.3"/>
<circle cx="515.7" cy="149.7" r="2.3"/>
<circle cx="516.1" cy="150.7" r="2.3"/>
<circle cx="515.9" cy="155.0" r="2.3"/>
<circle cx="515.8" cy="156.7" r="2.3"/>
<circle cx="516.1" cy="160.4" r="2.3"/>
<circle cx="516.0" cy="164.2" r="2.3"/>
<circle cx="516.2" cy="166.3" r="2.3"/>
<circle cx="516.0" cy="169.2" r="2.3"/>
<circle cx="516.1" cy="170.6" r="2.3"/>
<circle cx="515.8" cy="175.5" r="2.3"/>
<circle cx="516.3" cy="176.0" r="2.3"/>
<circle cx="515.7" cy="179.0" r="2.3"/>
<circle cx="516.1" cy="183.4" r="2.3"/>
<circle cx="515.7" cy="186.4" r="2.3"/>
<circle cx="516.2" cy="188.2" r="2.3"/>
<circle cx="515.7" cy="192.5" r="2.3"/>
<circle cx="516.3" cy="195.5" r="2.3"/>
<circle cx="515.8" cy="196.3" r="2.3"/>
<circle cx="516.2" cy="201.0" r="2.3"/>
<circle cx="516.1" cy="203.8" r="2.3"/>
<circle cx="515.8" cy="204.6" r="2.3"/>
<circle cx="515.9" cy="207.7" r="2.3"/>
<circle cx="527.4" cy="68.2" r="2.3"/>
<circle cx="527.3" cy="73.1" r="2.3"/>
<circle cx="527.4" cy="80.4" r="2.3"/>
<circle cx="527.4" cy="85.8" r="2.3"/>
<circle cx="527.2" cy="87.1" r="2.3"/>
<circle cx="527.5" cy="88.4" r="2.3"/>
<circle cx="527.4" cy="90.6" r="2.3"/>
<circle cx="527.2" cy="92.6" r="2.3"/>
<circle cx="527.2" cy="93.1" r="2.3"/>
<circle cx="527.6" cy="95.8" r="2.3"/>
<circle cx="527.4" cy="97.0" r="2.3"/>
<circle cx="527.4" cy="98.2" r="2.3"/>
<circle cx="527.3" cy="101.0" r="2.3"/>
<circle cx="527.3" cy="101.8" r="2.3"/>
<circle cx="527.2" cy="103.8" r="2.3"/>
<circle cx="527.5" cy="104.8" r="2.3"/>
<circle cx="527.5" cy="107.7" r="2.3"/>
<circle cx="527.4" cy="108.8" r="2.3"/>
<circle cx="527.6" cy="109.9" r="2.3"/>
<circle cx="527.3" cy="111.9" r="2.3"/>
<circle cx="527.4" cy="114.1" r="2.3"/>
<circle cx="527.4" cy="115.3" r="2.3"/>
<circle cx="527.5" cy="117.9" r="2.3"/>
<circle cx="527.3" cy="118.9" r="2.3"/>
<circle cx="527.5" cy="121.4" r="2.3"/>
<circle cx="527.4" cy="121.9" r="2.3"/>
<circle cx="527.1" cy="124.2" r="2.3"/>
<circle cx="527.2" cy="126.3" r="2.3"/>
<circle cx="527.6" cy="127.0" r="2.3"/>
<circle cx="527.1" cy="128.3" r="2.3"/>
<circle cx="527.4" cy="130.2" r="2.3"/>
<circle cx="527.2" cy="131.9" r="2.3"/>
<circle cx="527.1" cy="134.1" r="2.3"/>
<circle cx="527.3" cy="134.7" r="2.3"/>
<circle cx="527.6" cy="137.5" r="2.3"/>
<circle cx="527.5" cy="138.1" r="2.3"/>
<circle cx="527.3" cy="139.8" r="2.3"/>
<circle cx="527.6" cy="141.7" r="2.3"/>
<circle cx="527.5" cy="143.5" r="2.3"/>
<circle cx="527.5" cy="144.5" r="2.3"/>
<circle cx="527.7" cy="147.1" r="2.3"/>
<circle cx="527.6" cy="148.5" r="2.3"/>
<circle cx="527.6" cy="149.5" r="2.3"/>
<circle cx="527.6" cy="152.0" r="2.3"/>
<circle cx="527.5" cy="153.5" r="2.3"/>
<circle cx="527.5" cy="154.5" r="2.3"/>
<circle cx="527.6" cy="156.3" r="2.3"/>
<circle cx="527.2" cy="158.3" r="2.3"/>
<circle cx="527.5" cy="159.6" r="2.3"/>
<circle cx="527.7" cy="161.6" r="2.3"/>
<circle cx="527.6" cy="163.2" r="2.3"/>
<circle cx="527.8" cy="164.5" r="2.3"/>
<circle cx="527.1" cy="166.2" r="2.3"/>
<circle cx="527.4" cy="168.5" r="2.3"/>
<circle cx="527.4" cy="169.5" r="2.3"/>
<circle cx="527.5" cy="171.0" r="2.3"/>
<circle cx="527.3" cy="172.7" r="2.3"/>
<circle cx="527.5" cy="173.8" r="2.3"/>
<circle cx="527.1" cy="176.3" r="2.3"/>
<circle cx="527.0" cy="177.2" r="2.3"/>
<circle cx="527.0" cy="178.9" r="2.3"/>
<circle cx="527.6" cy="180.6" r="2.3"/>
<circle cx="527.2" cy="182.0" r="2.3"/>
<circle cx="527.4" cy="184.7" r="2.3"/>
<circle cx="527.3" cy="186.1" r="2.3"/>
<circle cx="527.6" cy="186.6" r="2.3"/>
<circle cx="526.0" cy="189.5" r="2.3"/>
<circle cx="526.4" cy="190.9" r="2.3"/>
<circle cx="526.3" cy="194.3" r="2.3"/>
<circle cx="525.8" cy="196.3" r="2.3"/>
<circle cx="526.3" cy="197.9" r="2.3"/>
<circle cx="525.8" cy="202.0" r="2.3"/>
<circle cx="525.9" cy="203.0" r="2.3"/>
<circle cx="526.2" cy="204.8" r="2.3"/>
<circle cx="525.8" cy="207.8" r="2.3"/>
<circle cx="526.1" cy="210.6" r="2.3"/>
<circle cx="525.7" cy="122.1" r="2.3"/>
<circle cx="525.7" cy="126.2" r="2.3"/>
<circle cx="525.1" cy="136.4" r="2.3"/>
<circle cx="525.0" cy="141.3" r="2.3"/>
<circle cx="525.5" cy="149.1" r="2.3"/>
<circle cx="525.1" cy="150.0" r="2.3"/>
<circle cx="525.3" cy="159.8" r="2.3"/>
<circle cx="525.6" cy="166.4" r="2.3"/>
<circle cx="525.5" cy="172.2" r="2.3"/>
<circle cx="525.7" cy="176.8" r="2.3"/>
<circle cx="525.2" cy="183.7" r="2.3"/>
<circle cx="525.6" cy="187.7" r="2.3"/>
<circle cx="525.4" cy="195.7" r="2.3"/>
<circle cx="525.1" cy="197.8" r="2.3"/>
<circle cx="525.4" cy="202.6" r="2.3"/>
<circle cx="525.4" cy="211.0" r="2.3"/>
<circle cx="529.2" cy="124.8" r="2.3"/>
<circle cx="529.7" cy="128.2" r="2.3"/>
<circle cx="529.5" cy="135.9" r="2.3"/>
<circle cx="529.3" cy="142.2" r="2.3"/>
<circle cx="529.2" cy="146.0" r="2.3"/>
<circle cx="529.9" cy="151.8" r="2.3"/>
<circle cx="529.6" cy="159.1" r="2.3"/>
<circle cx="529.2" cy="164.2" r="2.3"/>
<circle cx="529.5" cy="168.3" r="2.3"/>
<circle cx="529.6" cy="172.5" r="2.3"/>
<circle cx="529.4" cy="180.3" r="2.3"/>
<circle cx="529.6" cy="184.0" r="2.3"/>
<circle cx="529.9" cy="188.8" r="2.3"/>
<circle cx="529.4" cy="195.6" r="2.3"/>
<circle cx="529.7" cy="203.9" r="2.3"/>
<circle cx="525.5" cy="222.0" r="2.3"/>
<circle cx="533.2" cy="132.6" r="2.3"/>
<circle cx="533.7" cy="142.3" r="2.3"/>
<circle cx="533.9" cy="145.9" r="2.3"/>
<circle cx="532.8" cy="157.6" r="2.3"/>
<circle cx="533.0" cy="161.2" r="2.3"/>
<circle cx="533.8" cy="173.6" r="2.3"/>
<circle cx="533.7" cy="183.7" r="2.3"/>
<circle cx="533.8" cy="189.3" r="2.3"/>
<circle cx="533.0" cy="197.5" r="2.3"/>
<circle cx="479.6" cy="298.6" r="2.3"/>
<circle cx="506.6" cy="234.7" r="2.3"/>
<circle cx="506.6" cy="296.5" r="2.3"/>
<circle cx="512.6" cy="284.1" r="2.3"/>
<circle cx="512.6" cy="306.1" r="2.3"/>
<circle cx="501.5" cy="235.0" r="2.3"/>
<circle cx="501.5" cy="239.5" r="2.3"/>
<circle cx="481.5" cy="173.8" r="2.3"/>
<circle cx="480.9" cy="176.7" r="2.3"/>
<circle cx="481.4" cy="183.7" r="2.3"/>
<circle cx="481.5" cy="187.3" r="2.3"/>
<circle cx="481.1" cy="189.0" r="2.3"/>
<circle cx="481.2" cy="193.3" r="2.3"/>
<circle cx="480.9" cy="199.7" r="2.3"/>
<circle cx="481.0" cy="200.2" r="2.3"/>
<circle cx="481.6" cy="206.3" r="2.3"/>
<circle cx="481.2" cy="208.1" r="2.3"/>
<circle cx="481.7" cy="215.8" r="2.3"/>
<circle cx="481.0" cy="217.6" r="2.3"/>
<circle cx="481.0" cy="220.8" r="2.3"/>
<circle cx="487.1" cy="176.0" r="2.3"/>
<circle cx="486.7" cy="183.4" r="2.3"/>
<circle cx="486.6" cy="184.0" r="2.3"/>
<circle cx="487.2" cy="188.2" r="2.3"/>
<circle cx="487.2" cy="191.2" r="2.3"/>
<circle cx="487.2" cy="198.0" r="2.3"/>
<circle cx="487.2" cy="201.0" r="2.3"/>
<circle cx="486.8" cy="205.9" r="2.3"/>
<circle cx="486.6" cy="208.8" r="2.3"/>
<circle cx="487.3" cy="212.3" r="2.3"/>
<circle cx="487.2" cy="214.8" r="2.3"/>
<circle cx="487.0" cy="220.7" r="2.3"/>
<circle cx="487.1" cy="222.6" r="2.3"/>
<circle cx="486.7" cy="227.5" r="2.3"/>
<circle cx="487.1" cy="230.1" r="2.3"/>
<circle cx="486.9" cy="234.0" r="2.3"/>
<circle cx="487.2" cy="239.8" r="2.3"/>
<circle cx="491.6" cy="187.4" r="2.3"/>
<circle cx="492.3" cy="193.9" r="2.3"/>
<circle cx="492.4" cy="198.2" r="2.3"/>
<circle cx="491.8" cy="202.8" r="2.3"/>
<circle cx="491.9" cy="208.8" r="2.3"/>
<circle cx="492.3" cy="212.1" r="2.3"/>
<circle cx="491.6" cy="215.3" r="2.3"/>
<circle cx="492.1" cy="220.6" r="2.3"/>
<circle cx="491.6" cy="227.5" r="2.3"/>
<circle cx="492.3" cy="231.8" r="2.3"/>
<circle cx="492.3" cy="233.9" r="2.3"/>
<circle cx="492.3" cy="240.5" r="2.3"/>
<circle cx="492.0" cy="242.4" r="2.3"/>
<circle cx="492.2" cy="247.6" r="2.3"/>
<circle cx="492.1" cy="252.4" r="2.3"/>
<circle cx="491.8" cy="258.2" r="2.3"/>
<circle cx="492.2" cy="264.2" r="2.3"/>
<circle cx="492.2" cy="265.7" r="2.3"/>
<circle cx="508.8" cy="159.0" r="2.3"/>
<circle cx="508.7" cy="166.1" r="2.3"/>
<circle cx="508.4" cy="169.1" r="2.3"/>
<circle cx="508.9" cy="171.6" r="2.3"/>
<circle cx="508.6" cy="177.5" r="2.3"/>
<circle cx="508.2" cy="180.0" r="2.3"/>
<circle cx="508.3" cy="185.2" r="2.3"/>
<circle cx="508.4" cy="191.3" r="2.3"/>
<circle cx="508.7" cy="193.7" r="2.3"/>
<circle cx="509.2" cy="196.6" r="2.3"/>
<circle cx="508.8" cy="202.8" r="2.3"/>
<circle cx="510.9" cy="154.9" r="2.3"/>
<circle cx="511.1" cy="161.0" r="2.3"/>
<circle cx="510.6" cy="164.1" r="2.3"/>
<circle cx="510.7" cy="169.9" r="2.3"/>
<circle cx="511.1" cy="178.5" r="2.3"/>
<circle cx="511.1" cy="187.2" r="2.3"/>
<circle cx="510.8" cy="191.2" r="2.3"/>
<circle cx="510.8" cy="199.7" r="2.3"/>
<circle cx="514.0" cy="160.3" r="2.3"/>
<circle cx="513.4" cy="163.0" r="2.3"/>
<circle cx="514.0" cy="168.7" r="2.3"/>
<circle cx="513.3" cy="169.0" r="2.3"/>
<circle cx="513.9" cy="175.7" r="2.3"/>
<circle cx="513.8" cy="176.2" r="2.3"/>
<circle cx="514.0" cy="182.0" r="2.3"/>
<circle cx="513.8" cy="183.8" r="2.3"/>
<circle cx="513.3" cy="189.4" r="2.3"/>
<circle cx="513.1" cy="193.3" r="2.3"/>
<circle cx="513.1" cy="195.1" r="2.3"/>
<circle cx="513.2" cy="198.4" r="2.3"/>
<circle cx="513.0" cy="203.8" r="2.3"/>
<circle cx="515.7" cy="151.5" r="2.3"/>
<circle cx="516.3" cy="159.5" r="2.3"/>
<circle cx="515.8" cy="172.4" r="2.3"/>
<circle cx="516.3" cy="174.0" r="2.3"/>
<circle cx="516.0" cy="185.9" r="2.3"/>
<circle cx="516.0" cy="195.1" r="2.3"/>
<circle cx="515.8" cy="197.6" r="2.3"/>
<circle cx="516.0" cy="209.8" r="2.3"/>
<circle cx="527.2" cy="115.4" r="2.3"/>
<circle cx="527.2" cy="117.1" r="2.3"/>
<circle cx="527.1" cy="124.4" r="2.3"/>
<circle cx="527.8" cy="130.4" r="2.3"/>
<circle cx="527.0" cy="140.6" r="2.3"/>
<circle cx="527.1" cy="144.9" r="2.3"/>
<circle cx="527.2" cy="148.7" r="2.3"/>
<circle cx="527.9" cy="155.3" r="2.3"/>
<circle cx="527.0" cy="164.9" r="2.3"/>
<circle cx="527.0" cy="170.9" r="2.3"/>
<circle cx="527.9" cy="173.3" r="2.3"/>
<circle cx="527.2" cy="182.7" r="2.3"/>
<circle cx="527.7" cy="183.9" r="2.3"/>
<circle cx="524.1" cy="137.4" r="2.3"/>
<circle cx="524.3" cy="151.0" r="2.3"/>
<circle cx="524.5" cy="163.7" r="2.3"/>
<circle cx="523.8" cy="177.1" r="2.3"/>
<circle cx="524.2" cy="195.7" r="2.3"/>
<circle cx="524.3" cy="203.5" r="2.3"/>
<circle cx="531.1" cy="143.8" r="2.3"/>
<circle cx="531.2" cy="146.5" r="2.3"/>
<circle cx="530.6" cy="164.5" r="2.3"/>
<circle cx="531.3" cy="171.1" r="2.3"/>
<circle cx="530.5" cy="183.7" r="2.3"/>
<circle cx="531.4" cy="194.3" r="2.3"/>
<circle cx="479.8" cy="196.0" r="2.3"/>
<circle cx="479.4" cy="201.3" r="2.3"/>
<circle cx="479.5" cy="205.8" r="2.3"/>
<circle cx="479.1" cy="214.0" r="2.3"/>
<circle cx="479.9" cy="221.0" r="2.3"/>
<circle cx="482.9" cy="199.1" r="2.3"/>
<circle cx="483.4" cy="201.2" r="2.3"/>
<circle cx="483.0" cy="209.5" r="2.3"/>
<circle cx="482.5" cy="215.5" r="2.3"/>
<circle cx="482.7" cy="219.5" r="2.3"/>
<circle cx="486.3" cy="196.6" r="2.3"/>
<circle cx="486.2" cy="201.8" r="2.3"/>
<circle cx="486.1" cy="207.5" r="2.3"/>
<circle cx="486.2" cy="216.8" r="2.3"/>
<circle cx="486.2" cy="225.2" r="2.3"/>
</g>
<g fill="none" stroke="#ff0000" stroke-opacity="0.5">
<path stroke-width="2.35" d="M118.2 95.6V152.8"/>
<path stroke-width="1.5" d="M115.3 95.6h5.8M115.3 152.8h5.8"/>
<path stroke-width="2.35" d="M162.6 73.4V106.2"/>
<path stroke-width="1.5" d="M159.7 73.4h5.8M159.7 106.2h5.8"/>
<path stroke-width="2.35" d="M207.0 55.2V107.4"/>
<path stroke-width="1.5" d="M204.1 55.2h5.8M204.1 107.4h5.8"/>
<path stroke-width="2.35" d="M251.5 92.7V129.6"/>
<path stroke-width="1.5" d="M248.6 92.7h5.8M248.6 129.6h5.8"/>
<path stroke-width="2.35" d="M295.9 55.8V189.2"/>
<path stroke-width="1.5" d="M293.0 55.8h5.8M293.0 189.2h5.8"/>
<path stroke-width="2.35" d="M340.3 68.5V184.7"/>
<path stroke-width="1.5" d="M337.4 68.5h5.8M337.4 184.7h5.8"/>
<path stroke-width="2.35" d="M384.7 130.2V183.2"/>
<path stroke-width="1.5" d="M381.8 130.2h5.8M381.8 183.2h5.8"/>
<path stroke-width="2.35" d="M429.1 135.7V197.5"/>
<path stroke-width="1.5" d="M426.2 135.7h5.8M426.2 197.5h5.8"/>
<path stroke-width="2.35" d="M473.6 118.8V224.9"/>
<path stroke-width="1.5" d="M470.7 118.8h5.8M470.7 224.9h5.8"/>
<path stroke-width="2.35" d="M518.0 122.3V207.7"/>
<path stroke-width="1.5" d="M515.1 122.3h5.8M515.1 207.7h5.8"/>
<path fill="#ff0000" fill-opacity="0.33" stroke-width="1.3" stroke-linejoin="miter" d="M118.2 118.4L121.7 124.2L118.2 130.0L114.7 124.2Z"/>
<path fill="#ff0000" fill-opacity="0.33" stroke-width="1.3" stroke-linejoin="miter" d="M162.6 84.0L166.1 89.8L162.6 95.6L159.1 89.8Z"/>
<path fill="#ff0000" fill-opacity="0.33" stroke-width="1.3" stroke-linejoin="miter" d="M207.0 75.5L210.5 81.3L207.0 87.1L203.5 81.3Z"/>
<path fill="#ff0000" fill-opacity="0.33" stroke-width="1.3" stroke-linejoin="miter" d="M251.5 105.4L255.0 111.2L251.5 117.0L248.0 111.2Z"/>
<path fill="#ff0000" fill-opacity="0.33" stroke-width="1.3" stroke-linejoin="miter" d="M295.9 116.7L299.4 122.5L295.9 128.3L292.4 122.5Z"/>
<path fill="#ff0000" fill-opacity="0.33" stroke-width="1.3" stroke-linejoin="miter" d="M340.3 120.8L343.8 126.6L340.3 132.4L336.8 126.6Z"/>
<path fill="#ff0000" fill-opacity="0.33" stroke-width="1.3" stroke-linejoin="miter" d="M384.7 150.9L388.2 156.7L384.7 162.5L381.2 156.7Z"/>
<path fill="#ff0000" fill-opacity="0.33" stroke-width="1.3" stroke-linejoin="miter" d="M429.1 160.8L432.6 166.6L429.1 172.4L425.6 166.6Z"/>
<path fill="#ff0000" fill-opacity="0.33" stroke-width="1.3" stroke-linejoin="miter" d="M473.6 166.1L477.1 171.9L473.6 177.7L470.1 171.9Z"/>
<path fill="#ff0000" fill-opacity="0.33" stroke-width="1.3" stroke-linejoin="miter" d="M518.0 159.2L521.5 165.0L518.0 170.8L514.5 165.0Z"/>
</g>
<path d="M95.8 128.5L98.0 127.4L100.2 126.2L102.5 125.0L104.7 123.8L106.9 122.7L109.1 121.5L111.3 120.3L113.6 119.2L115.8 118.0L118.0 116.8L120.2 115.7L122.5 114.6L124.7 113.4L126.9 112.3L129.1 111.2L131.3 110.1L133.6 109.0L135.8 107.9L138.0 106.9L140.2 105.9L142.4 104.8L144.7 103.8L146.9 102.9L149.1 101.9L151.3 101.0L153.5 100.1L155.8 99.2L158.0 98.3L160.2 97.5L162.4 96.6L164.7 95.9L166.9 95.1L169.1 94.4L171.3 93.7L173.5 93.0L175.8 92.3L178.0 91.7L180.2 91.2L182.4 90.6L184.6 90.1L186.9 89.6L189.1 89.2L191.3 88.8L193.5 88.4L195.7 88.0L198.0 87.7L200.2 87.5L202.4 87.2L204.6 87.0L206.8 86.9L209.1 86.7L211.3 86.7L213.5 86.6L215.7 86.6L218.0 86.6L220.2 86.7L222.4 86.8L224.6 86.9L226.8 87.1L229.1 87.3L231.3 87.5L233.5 87.8L235.7 88.1L237.9 88.5L240.2 88.8L242.4 89.3L244.6 89.7L246.8 90.2L249.0 90.7L251.3 91.3L253.5 91.9L255.7 92.5L257.9 93.1L260.2 93.8L262.4 94.5L264.6 95.2L266.8 96.0L269.0 96.8L271.3 97.6L273.5 98.5L275.7 99.3L277.9 100.2L280.1 101.2L282.4 102.1L284.6 103.1L286.8 104.0L289.0 105.0L291.2 106.1L293.5 107.1L295.7 108.2L297.9 109.2L300.1 110.3L302.4 111.4L304.6 112.5L306.8 113.6L309.0 114.8L311.2 115.9L313.5 117.1L315.7 118.2L317.9 119.4L320.1 120.6L322.3 121.7L324.6 122.9L326.8 124.1L329.0 125.2L331.2 126.4L333.4 127.6L335.7 128.8L337.9 129.9L340.1 131.1L342.3 132.2L344.6 133.4L346.8 134.5L349.0 135.6L351.2 136.7L353.4 137.8L355.7 138.9L357.9 140.0L360.1 141.0L362.3 142.1L364.5 143.1L366.8 144.1L369.0 145.1L371.2 146.0L373.4 147.0L375.6 147.9L377.9 148.8L380.1 149.6L382.3 150.5L384.5 151.3L386.8 152.1L389.0 152.8L391.2 153.6L393.4 154.3L395.6 154.9L397.9 155.6L400.1 156.2L402.3 156.8L404.5 157.3L406.7 157.8L409.0 158.3L411.2 158.7L413.4 159.2L415.6 159.5L417.8 159.9L420.1 160.2L422.3 160.4L424.5 160.7L426.7 160.9L428.9 161.0L431.2 161.2L433.4 161.3L435.6 161.3L437.8 161.3L440.1 161.3L442.3 161.2L444.5 161.1L446.7 161.0L448.9 160.8L451.2 160.6L453.4 160.4L455.6 160.1L457.8 159.8L460.0 159.5L462.3 159.1L464.5 158.7L466.7 158.2L468.9 157.7L471.1 157.2L473.4 156.6L475.6 156.1L477.8 155.4L480.0 154.8L482.3 154.1L484.5 153.4L486.7 152.7L488.9 151.9L491.1 151.1L493.4 150.3L495.6 149.5L497.8 148.6L500.0 147.7L502.2 146.8L504.5 145.8L506.7 144.9L508.9 143.9L511.1 142.9L513.3 141.9L515.6 140.8L517.8 139.8L520.0 138.7L522.2 137.6L524.5 136.5L526.7 135.4L528.9 134.3L531.1 133.1L533.3 132.0L535.6 130.8L537.8 129.7L540.0 128.5" fill="none" stroke="#daa520" stroke-width="2.7" stroke-linecap="square"/>
<rect x="73.7" y="1.95" width="489.09999999999997" height="364.45" fill="none" stroke="#000" stroke-width="1.25"/>
<g stroke="#000" stroke-width="1.25">
<path d="M95.8 366.4v4.86"/>
<path d="M184.6 366.4v4.86"/>
<path d="M273.5 366.4v4.86"/>
<path d="M362.3 366.4v4.86"/>
<path d="M451.2 366.4v4.86"/>
<path d="M540.0 366.4v4.86"/>
<path d="M73.7 347.9h-4.86"/>
<path d="M73.7 301.8h-4.86"/>
<path d="M73.7 255.7h-4.86"/>
<path d="M73.7 209.5h-4.86"/>
<path d="M73.7 163.4h-4.86"/>
<path d="M73.7 117.3h-4.86"/>
<path d="M73.7 71.1h-4.86"/>
<path d="M73.7 25.0h-4.86"/>
</g>
<g font-family="'DejaVu Sans','Liberation Sans',sans-serif" font-size="13.8" fill="#000" stroke="#000" stroke-width="0.35">
<text x="95.8" y="386.9" text-anchor="middle">0.0</text>
<text x="184.6" y="386.9" text-anchor="middle">0.2</text>
<text x="273.5" y="386.9" text-anchor="middle">0.4</text>
<text x="362.3" y="386.9" text-anchor="middle">0.6</text>
<text x="451.2" y="386.9" text-anchor="middle">0.8</text>
<text x="540.0" y="386.9" text-anchor="middle">1.0</text>
<text x="63.7" y="353.3" text-anchor="end">−400</text>
<text x="63.7" y="307.2" text-anchor="end">−300</text>
<text x="63.7" y="261.1" text-anchor="end">−200</text>
<text x="63.7" y="214.9" text-anchor="end">−100</text>
<text x="63.7" y="168.8" text-anchor="end">0</text>
<text x="63.7" y="122.7" text-anchor="end">100</text>
<text x="63.7" y="76.5" text-anchor="end">200</text>
<text x="63.7" y="30.4" text-anchor="end">300</text>
<text x="124.5" y="311.2">Sine fit</text>
<text x="124.5" y="331.3">Original folded data</text>
<text x="124.5" y="351.5">Binned data</text>
</g>
<g font-family="'DejaVu Sans','Liberation Sans',sans-serif" font-size="16.6" fill="#000" stroke="#000" stroke-width="0.4">
<text x="318.3" y="407" text-anchor="middle">Phase</text>
<text transform="translate(16.5 185.4) rotate(-90)" text-anchor="middle">RM (rad m<tspan font-size="11.67" dy="-5.4">−2</tspan><tspan dy="5.4">)</tspan></text>
</g>
<path d="M84.8 306.4h29.5" stroke="#daa520" stroke-width="2.7" fill="none"/>
<g fill="none" stroke="#1f77b4" stroke-opacity="0.21"><path stroke-width="2.15" d="M99.5 319.7V333.3"/><path stroke-width="1.5" d="M96.6 319.7h5.8M96.6 333.3h5.8"/><circle cx="99.5" cy="326.5" r="2.3" fill="#1f77b4" fill-opacity="0.12" stroke-width="1.5"/></g>
<g fill="none" stroke="#ff0000" stroke-opacity="0.5"><path stroke-width="2.35" d="M99.5 340.2V353.8"/><path stroke-width="1.5" d="M96.6 340.2h5.8M96.6 353.8h5.8"/><path fill="#ff0000" fill-opacity="0.33" stroke-width="1.3" d="M99.5 341.2L103.0 347L99.5 352.8L96.0 347Z"/></g>
</svg>
</body></html>
